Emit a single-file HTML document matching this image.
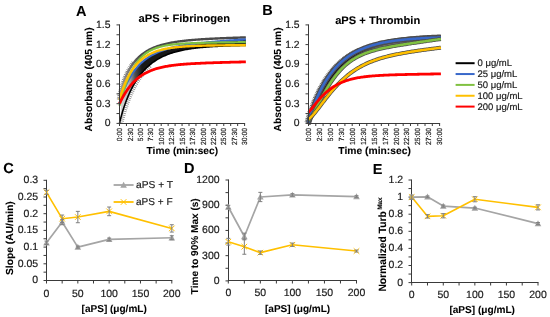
<!DOCTYPE html>
<html><head><meta charset="utf-8"><style>
html,body{margin:0;padding:0;background:#fff;}
svg{display:block;will-change:transform;font-family:"Liberation Sans", sans-serif;text-rendering:geometricPrecision;}
</style></head><body>
<svg width="550" height="317" viewBox="0 0 550 317">
<rect width="550" height="317" fill="#fff"/>
<text x="76.00" y="15.70" font-size="14.5" font-weight="bold" stroke="#000" stroke-width="0.08" >A</text>
<text x="138.60" y="21.80" font-size="11.0" font-weight="bold" stroke="#000" stroke-width="0.08" textLength="91.5" lengthAdjust="spacingAndGlyphs" >aPS + Fibrinogen</text>
<text transform="translate(92.00,79.40) rotate(-90)" font-size="10.2" font-weight="bold" text-anchor="middle" stroke="#000" stroke-width="0.08" textLength="104" lengthAdjust="spacingAndGlyphs" >Absorbance (405 nm)</text>
<text x="182.30" y="153.60" font-size="10.1" font-weight="bold" text-anchor="middle" stroke="#000" stroke-width="0.08" textLength="71.5" lengthAdjust="spacingAndGlyphs" >Time (min:sec)</text>
<defs><linearGradient id="gA" x1="119" y1="0" x2="142" y2="0" gradientUnits="userSpaceOnUse"><stop offset="0" stop-color="#dcdcdc"/><stop offset="0.4" stop-color="#bdbdbd"/><stop offset="0.7" stop-color="#505050"/><stop offset="1" stop-color="#181818"/></linearGradient><linearGradient id="gTop" x1="119" y1="0" x2="140" y2="0" gradientUnits="userSpaceOnUse"><stop offset="0" stop-color="#9a9a9a"/><stop offset="0.5" stop-color="#777"/><stop offset="1" stop-color="#4a4a4a"/></linearGradient><linearGradient id="gB" x1="308" y1="0" x2="345" y2="0" gradientUnits="userSpaceOnUse"><stop offset="0" stop-color="#777"/><stop offset="1" stop-color="#666"/></linearGradient></defs>
<path d="M121.70,123.40 L121.94,122.21 L122.19,121.15 L122.43,120.13 L122.67,119.16 L122.92,118.21 L123.16,117.28 L123.40,116.38 L123.65,115.50 L123.89,114.63 L124.13,113.79 L124.38,112.96 L124.62,112.14 L124.86,111.34 L125.11,110.55 L125.35,109.77 L125.59,109.01 L125.84,108.26 L126.08,107.52 L126.32,106.79 L126.56,106.08 L126.81,105.37 L127.05,104.68 L127.29,103.99 L127.54,103.32 L127.78,102.65 L128.02,102.00 L128.27,101.35 L128.51,100.71 L128.75,100.08 L129.00,99.46 L129.24,98.85 L129.48,98.24 L129.73,97.65 L129.97,97.06 L130.21,96.48 L130.46,95.90 L130.70,95.34 L130.94,94.78 L131.19,94.23 L131.43,93.68 L131.67,93.15 L131.92,92.62 L132.16,92.09 L132.40,91.58 L132.65,91.07 L132.89,90.56 L133.13,90.06 L133.38,89.57 L133.62,89.09 L133.86,88.61 L134.11,88.13 L134.35,87.66 L134.59,87.20 L134.84,86.74 L135.08,86.29 L135.32,85.85 L135.57,85.41 L135.81,84.97 L136.05,84.54 L136.29,84.11 L136.54,83.69 L136.78,83.28 L137.02,82.87 L137.27,82.46 L137.51,82.06 L137.75,81.67 L138.00,81.28 L138.24,80.89 L138.48,80.51 L138.73,80.13 L138.97,79.76 L139.21,79.39 L139.46,79.02 L139.70,78.66 L139.94,78.31 L140.19,77.95 L140.43,77.61 L140.67,77.26 L140.92,76.92 L141.16,76.58 L141.40,76.25 L141.65,75.92 L141.89,75.60 L142.13,75.28 L142.38,74.96 L142.62,74.64 L142.86,74.33 L143.11,74.03 L143.35,73.72 L143.59,73.42 L143.84,73.13 L144.08,72.83 L144.32,72.54 L144.57,72.25 L144.81,71.97 L145.05,71.69 L145.30,71.41 L145.54,71.14 L145.78,70.87 L146.02,70.60 L146.27,70.33 L146.51,70.07 L146.75,69.81 L147.00,69.55 L147.24,69.30 L147.48,69.05 L147.73,68.80 L147.97,68.55 L148.21,68.31 L148.46,68.07 L148.70,67.83 L148.94,67.60 L149.19,67.36 L149.43,67.13 L149.67,66.91 L149.92,66.68 L150.16,66.46 L150.40,66.24 L150.65,66.02 L150.89,65.81" fill="none" stroke="#8c8c8c" stroke-width="3.5" stroke-linejoin="round" stroke-dasharray="0.8 1.2"/>
<path d="M118.30,99.48 L118.42,98.43 L118.54,97.62 L118.66,96.89 L118.79,96.20 L118.91,95.55 L119.03,94.93 L119.15,94.33 L119.27,93.76 L119.39,93.20 L119.52,92.65 L119.64,92.12 L119.76,91.60 L119.88,91.10 L120.00,90.61 L120.12,90.12 L120.25,89.65 L120.37,89.18 L120.49,88.73 L120.61,88.28 L120.73,87.84 L120.85,87.41 L120.98,86.98 L121.10,86.57 L121.22,86.15 L121.34,85.75 L121.46,85.35 L121.58,84.96 L121.71,84.57 L121.83,84.19 L121.95,83.81 L122.07,83.44 L122.19,83.07 L122.31,82.71 L122.44,82.35 L122.56,82.00 L122.68,81.65 L122.80,81.31 L122.92,80.97 L123.04,80.64 L123.16,80.31 L123.29,79.98 L123.41,79.66 L123.53,79.34 L123.65,79.02 L123.77,78.71 L123.89,78.40 L124.02,78.10 L124.14,77.80 L124.26,77.50 L124.38,77.21 L124.50,76.92 L124.62,76.63 L124.75,76.34 L124.87,76.06 L124.99,75.78 L125.11,75.51 L125.23,75.23 L125.35,74.96 L125.48,74.69 L125.60,74.43 L125.72,74.17 L125.84,73.91 L125.96,73.65 L126.08,73.40 L126.21,73.15 L126.33,72.90 L126.45,72.65 L126.57,72.41 L126.69,72.16 L126.81,71.92 L126.94,71.69 L127.06,71.45 L127.18,71.22 L127.30,70.99 L127.42,70.76 L127.54,70.53 L127.67,70.31 L127.79,70.09 L127.91,69.87 L128.03,69.65 L128.15,69.43 L128.27,69.22 L128.39,69.01 L128.52,68.80 L128.64,68.59 L128.76,68.38 L128.88,68.18 L129.00,67.97 L129.12,67.77 L129.25,67.57 L129.37,67.38 L129.49,67.18 L129.61,66.99 L129.73,66.79 L129.85,66.60 L129.98,66.41 L130.10,66.23 L130.22,66.04 L130.34,65.86 L130.46,65.67 L130.58,65.49 L130.71,65.31 L130.83,65.13 L130.95,64.96 L131.07,64.78 L131.19,64.61 L131.31,64.44 L131.44,64.27 L131.56,64.10 L131.68,63.93 L131.80,63.76 L131.92,63.60 L132.04,63.43 L132.17,63.27 L132.29,63.11 L132.41,62.95 L132.53,62.79 L132.65,62.63 L132.77,62.48 L132.90,62.32" fill="none" stroke="#7a7a7a" stroke-width="3.0" stroke-linejoin="round" stroke-dasharray="0.8 1.0"/>
<path d="M120.75,98.84 L121.79,95.58 L122.84,92.61 L123.88,89.88 L124.92,87.35 L125.96,84.99 L127.01,82.79 L128.05,80.73 L129.09,78.79 L130.13,76.97 L131.18,75.25 L132.22,73.64 L133.26,72.12 L134.30,70.68 L135.35,69.32 L136.39,68.04 L137.43,66.82 L138.47,65.67 L139.52,64.58 L140.56,63.55 L141.60,62.57 L142.64,61.64 L143.69,60.76 L144.73,59.92 L145.77,59.12 L146.81,58.37 L147.86,57.65 L148.90,56.96 L149.94,56.31 L150.98,55.69 L152.03,55.10 L153.07,54.53 L154.11,53.99 L155.15,53.48 L156.20,52.99 L157.24,52.52 L158.28,52.07 L159.32,51.64 L160.37,51.23 L161.41,50.84 L162.45,50.47 L163.49,50.11 L164.54,49.76 L165.58,49.43 L166.62,49.11 L167.66,48.81 L168.71,48.52 L169.75,48.23 L170.79,47.96 L171.83,47.70 L172.88,47.45 L173.92,47.21 L174.96,46.98 L176.00,46.75 L177.05,46.54 L178.09,46.33 L179.13,46.13 L180.17,45.93 L181.22,45.74 L182.26,45.56 L183.30,45.38 L184.34,45.21 L185.39,45.04 L186.43,44.88 L187.47,44.73 L188.51,44.57 L189.56,44.42 L190.60,44.28 L191.64,44.14 L192.68,44.00 L193.73,43.87 L194.77,43.74 L195.81,43.61 L196.85,43.49 L197.90,43.37 L198.94,43.25 L199.98,43.13 L201.02,43.02 L202.07,42.91 L203.11,42.80 L204.15,42.69 L205.19,42.59 L206.24,42.48 L207.28,42.38 L208.32,42.28 L209.36,42.18 L210.41,42.09 L211.45,41.99 L212.49,41.90 L213.53,41.80 L214.58,41.71 L215.62,41.62 L216.66,41.53 L217.70,41.45 L218.75,41.36 L219.79,41.27 L220.83,41.19 L221.87,41.11 L222.92,41.02 L223.96,40.94 L225.00,40.86 L226.04,40.78 L227.09,40.70 L228.13,40.62 L229.17,40.54 L230.21,40.46 L231.26,40.38 L232.30,40.31 L233.34,40.23 L234.38,40.16 L235.43,40.08 L236.47,40.00 L237.51,39.93 L238.55,39.86 L239.60,39.78 L240.64,39.71 L241.68,39.64 L242.72,39.56 L243.77,39.49 L244.81,39.42 L245.85,39.35 L245.85,45.47 L244.81,45.49 L243.77,45.51 L242.72,45.52 L241.68,45.54 L240.64,45.57 L239.60,45.59 L238.55,45.61 L237.51,45.63 L236.47,45.66 L235.43,45.68 L234.38,45.71 L233.34,45.74 L232.30,45.76 L231.26,45.79 L230.21,45.83 L229.17,45.86 L228.13,45.89 L227.09,45.93 L226.04,45.96 L225.00,46.00 L223.96,46.04 L222.92,46.08 L221.87,46.13 L220.83,46.17 L219.79,46.22 L218.75,46.27 L217.70,46.32 L216.66,46.37 L215.62,46.43 L214.58,46.48 L213.53,46.54 L212.49,46.61 L211.45,46.67 L210.41,46.74 L209.36,46.81 L208.32,46.89 L207.28,46.96 L206.24,47.04 L205.19,47.13 L204.15,47.22 L203.11,47.31 L202.07,47.40 L201.02,47.50 L199.98,47.61 L198.94,47.71 L197.90,47.83 L196.85,47.94 L195.81,48.07 L194.77,48.20 L193.73,48.33 L192.68,48.47 L191.64,48.61 L190.60,48.77 L189.56,48.93 L188.51,49.09 L187.47,49.26 L186.43,49.44 L185.39,49.63 L184.34,49.83 L183.30,50.03 L182.26,50.25 L181.22,50.47 L180.17,50.70 L179.13,50.95 L178.09,51.20 L177.05,51.47 L176.00,51.74 L174.96,52.03 L173.92,52.34 L172.88,52.65 L171.83,52.98 L170.79,53.33 L169.75,53.69 L168.71,54.07 L167.66,54.46 L166.62,54.87 L165.58,55.30 L164.54,55.75 L163.49,56.22 L162.45,56.72 L161.41,57.23 L160.37,57.77 L159.32,58.33 L158.28,58.92 L157.24,59.54 L156.20,60.18 L155.15,60.86 L154.11,61.56 L153.07,62.30 L152.03,63.07 L150.98,63.89 L149.94,64.73 L148.90,65.62 L147.86,66.55 L146.81,67.53 L145.77,68.55 L144.73,69.63 L143.69,70.75 L142.64,71.93 L141.60,73.17 L140.56,74.47 L139.52,75.83 L138.47,77.26 L137.43,78.76 L136.39,80.35 L135.35,82.01 L134.30,83.75 L133.26,85.59 L132.22,87.53 L131.18,89.57 L130.13,91.72 L129.09,93.99 L128.05,96.39 L127.01,98.93 L125.96,101.62 L124.92,104.48 L123.88,107.52 L122.84,110.77 L121.79,114.27 L120.75,118.07 Z" fill="url(#gA)" stroke="none" />
<path d="M119.50,123.40 L120.55,118.84 L121.61,114.93 L122.66,111.35 L123.71,108.03 L124.76,104.92 L125.82,102.01 L126.87,99.27 L127.92,96.69 L128.98,94.25 L130.03,91.95 L131.08,89.76 L132.14,87.69 L133.19,85.73 L134.24,83.86 L135.29,82.09 L136.35,80.41 L137.40,78.81 L138.45,77.29 L139.51,75.84 L140.56,74.47 L141.61,73.15 L142.66,71.91 L143.72,70.72 L144.77,69.58 L145.82,68.50 L146.88,67.47 L147.93,66.49 L148.98,65.55 L150.03,64.66 L151.09,63.80 L152.14,62.99 L153.19,62.21 L154.25,61.47 L155.30,60.76 L156.35,60.08 L157.41,59.44 L158.46,58.82 L159.51,58.23 L160.56,57.66 L161.62,57.13 L162.67,56.61 L163.72,56.12 L164.78,55.65 L165.83,55.20 L166.88,54.77 L167.93,54.36 L168.99,53.96 L170.04,53.59 L171.09,53.23 L172.15,52.88 L173.20,52.55 L174.25,52.24 L175.31,51.94 L176.36,51.65 L177.41,51.37 L178.46,51.11 L179.52,50.86 L180.57,50.61 L181.62,50.38 L182.68,50.16 L183.73,49.95 L184.78,49.74 L185.83,49.55 L186.89,49.36 L187.94,49.18 L188.99,49.01 L190.05,48.85 L191.10,48.69 L192.15,48.54 L193.20,48.40 L194.26,48.26 L195.31,48.13 L196.36,48.00 L197.42,47.88 L198.47,47.76 L199.52,47.65 L200.58,47.55 L201.63,47.44 L202.68,47.35 L203.73,47.25 L204.79,47.16 L205.84,47.08 L206.89,46.99 L207.95,46.91 L209.00,46.84 L210.05,46.76 L211.10,46.70 L212.16,46.63 L213.21,46.56 L214.26,46.50 L215.32,46.44 L216.37,46.39 L217.42,46.33 L218.47,46.28 L219.53,46.23 L220.58,46.18 L221.63,46.14 L222.69,46.09 L223.74,46.05 L224.79,46.01 L225.85,45.97 L226.90,45.93 L227.95,45.90 L229.00,45.86 L230.06,45.83 L231.11,45.80 L232.16,45.77 L233.22,45.74 L234.27,45.71 L235.32,45.68 L236.37,45.66 L237.43,45.63 L238.48,45.61 L239.53,45.59 L240.59,45.57 L241.64,45.55 L242.69,45.53 L243.75,45.51 L244.80,45.49 L245.85,45.47" fill="none" stroke="#000" stroke-width="1.6" stroke-linejoin="round" />
<path d="M119.50,99.48 L120.55,93.39 L121.61,89.04 L122.66,85.36 L123.71,82.13 L124.76,79.25 L125.82,76.64 L126.87,74.27 L127.92,72.10 L128.98,70.11 L130.03,68.26 L131.08,66.56 L132.14,64.98 L133.19,63.51 L134.24,62.14 L135.29,60.86 L136.35,59.66 L137.40,58.54 L138.45,57.49 L139.51,56.51 L140.56,55.59 L141.61,54.72 L142.66,53.90 L143.72,53.13 L144.77,52.41 L145.82,51.72 L146.88,51.07 L147.93,50.46 L148.98,49.89 L150.03,49.34 L151.09,48.82 L152.14,48.33 L153.19,47.87 L154.25,47.43 L155.30,47.01 L156.35,46.62 L157.41,46.24 L158.46,45.88 L159.51,45.54 L160.56,45.22 L161.62,44.91 L162.67,44.62 L163.72,44.34 L164.78,44.07 L165.83,43.82 L166.88,43.58 L167.93,43.34 L168.99,43.12 L170.04,42.91 L171.09,42.71 L172.15,42.52 L173.20,42.33 L174.25,42.15 L175.31,41.98 L176.36,41.82 L177.41,41.66 L178.46,41.52 L179.52,41.37 L180.57,41.23 L181.62,41.10 L182.68,40.97 L183.73,40.85 L184.78,40.73 L185.83,40.62 L186.89,40.51 L187.94,40.40 L188.99,40.30 L190.05,40.20 L191.10,40.11 L192.15,40.01 L193.20,39.92 L194.26,39.84 L195.31,39.76 L196.36,39.67 L197.42,39.60 L198.47,39.52 L199.52,39.45 L200.58,39.38 L201.63,39.31 L202.68,39.24 L203.73,39.17 L204.79,39.11 L205.84,39.05 L206.89,38.99 L207.95,38.93 L209.00,38.87 L210.05,38.81 L211.10,38.76 L212.16,38.71 L213.21,38.65 L214.26,38.60 L215.32,38.55 L216.37,38.50 L217.42,38.45 L218.47,38.41 L219.53,38.36 L220.58,38.31 L221.63,38.27 L222.69,38.23 L223.74,38.18 L224.79,38.14 L225.85,38.10 L226.90,38.06 L227.95,38.02 L229.00,37.98 L230.06,37.94 L231.11,37.90 L232.16,37.86 L233.22,37.82 L234.27,37.79 L235.32,37.75 L236.37,37.71 L237.43,37.68 L238.48,37.64 L239.53,37.61 L240.59,37.57 L241.64,37.54 L242.69,37.50 L243.75,37.47 L244.80,37.44 L245.85,37.40" fill="none" stroke="url(#gTop)" stroke-width="2.4" stroke-linejoin="round" />
<path d="M119.50,103.48 L120.55,99.50 L121.61,96.14 L122.66,93.10 L123.71,90.31 L124.76,87.72 L125.82,85.31 L126.87,83.07 L127.92,80.97 L128.98,78.99 L130.03,77.14 L131.08,75.40 L132.14,73.76 L133.19,72.22 L134.24,70.76 L135.29,69.39 L136.35,68.09 L137.40,66.86 L138.45,65.69 L139.51,64.59 L140.56,63.55 L141.61,62.56 L142.66,61.62 L143.72,60.73 L144.77,59.89 L145.82,59.09 L146.88,58.32 L147.93,57.60 L148.98,56.91 L150.03,56.25 L151.09,55.63 L152.14,55.03 L153.19,54.47 L154.25,53.92 L155.30,53.41 L156.35,52.92 L157.41,52.45 L158.46,52.00 L159.51,51.57 L160.56,51.16 L161.62,50.76 L162.67,50.39 L163.72,50.03 L164.78,49.68 L165.83,49.35 L166.88,49.04 L167.93,48.73 L168.99,48.44 L170.04,48.16 L171.09,47.89 L172.15,47.63 L173.20,47.38 L174.25,47.14 L175.31,46.90 L176.36,46.68 L177.41,46.46 L178.46,46.25 L179.52,46.05 L180.57,45.86 L181.62,45.67 L182.68,45.49 L183.73,45.31 L184.78,45.14 L185.83,44.97 L186.89,44.81 L187.94,44.66 L188.99,44.50 L190.05,44.36 L191.10,44.21 L192.15,44.07 L193.20,43.94 L194.26,43.80 L195.31,43.67 L196.36,43.55 L197.42,43.42 L198.47,43.30 L199.52,43.18 L200.58,43.07 L201.63,42.95 L202.68,42.84 L203.73,42.73 L204.79,42.63 L205.84,42.52 L206.89,42.42 L207.95,42.32 L209.00,42.22 L210.05,42.12 L211.10,42.02 L212.16,41.93 L213.21,41.83 L214.26,41.74 L215.32,41.65 L216.37,41.56 L217.42,41.47 L218.47,41.38 L219.53,41.30 L220.58,41.21 L221.63,41.13 L222.69,41.04 L223.74,40.96 L224.79,40.88 L225.85,40.79 L226.90,40.71 L227.95,40.63 L229.00,40.55 L230.06,40.47 L231.11,40.40 L232.16,40.32 L233.22,40.24 L234.27,40.16 L235.32,40.09 L236.37,40.01 L237.43,39.94 L238.48,39.86 L239.53,39.79 L240.59,39.71 L241.64,39.64 L242.69,39.57 L243.75,39.49 L244.80,39.42 L245.85,39.35" fill="none" stroke="#3868CA" stroke-width="2.2" stroke-linejoin="round" />
<path d="M119.50,105.78 L120.55,101.68 L121.61,97.75 L122.66,94.04 L123.71,90.56 L124.76,87.31 L125.82,84.27 L126.87,81.43 L127.92,78.77 L128.98,76.30 L130.03,73.99 L131.08,71.84 L132.14,69.84 L133.19,67.97 L134.24,66.23 L135.29,64.61 L136.35,63.11 L137.40,61.70 L138.45,60.39 L139.51,59.18 L140.56,58.05 L141.61,56.99 L142.66,56.01 L143.72,55.10 L144.77,54.25 L145.82,53.46 L146.88,52.72 L147.93,52.04 L148.98,51.40 L150.03,50.81 L151.09,50.25 L152.14,49.74 L153.19,49.26 L154.25,48.82 L155.30,48.40 L156.35,48.02 L157.41,47.66 L158.46,47.33 L159.51,47.01 L160.56,46.72 L161.62,46.45 L162.67,46.20 L163.72,45.97 L164.78,45.75 L165.83,45.54 L166.88,45.35 L167.93,45.18 L168.99,45.01 L170.04,44.86 L171.09,44.71 L172.15,44.58 L173.20,44.45 L174.25,44.33 L175.31,44.22 L176.36,44.12 L177.41,44.02 L178.46,43.93 L179.52,43.84 L180.57,43.76 L181.62,43.69 L182.68,43.62 L183.73,43.55 L184.78,43.49 L185.83,43.43 L186.89,43.38 L187.94,43.32 L188.99,43.27 L190.05,43.23 L191.10,43.18 L192.15,43.14 L193.20,43.10 L194.26,43.06 L195.31,43.03 L196.36,42.99 L197.42,42.96 L198.47,42.93 L199.52,42.90 L200.58,42.87 L201.63,42.84 L202.68,42.81 L203.73,42.79 L204.79,42.76 L205.84,42.74 L206.89,42.72 L207.95,42.70 L209.00,42.67 L210.05,42.65 L211.10,42.63 L212.16,42.61 L213.21,42.59 L214.26,42.58 L215.32,42.56 L216.37,42.54 L217.42,42.52 L218.47,42.51 L219.53,42.49 L220.58,42.47 L221.63,42.46 L222.69,42.44 L223.74,42.42 L224.79,42.41 L225.85,42.39 L226.90,42.38 L227.95,42.36 L229.00,42.35 L230.06,42.33 L231.11,42.32 L232.16,42.31 L233.22,42.29 L234.27,42.28 L235.32,42.26 L236.37,42.25 L237.43,42.24 L238.48,42.22 L239.53,42.21 L240.59,42.20 L241.64,42.18 L242.69,42.17 L243.75,42.16 L244.80,42.14 L245.85,42.13" fill="none" stroke="#80C141" stroke-width="2.2" stroke-linejoin="round" />
<path d="M119.50,99.81 L120.55,95.97 L121.61,92.61 L122.66,89.54 L123.71,86.70 L124.76,84.08 L125.82,81.64 L126.87,79.38 L127.92,77.26 L128.98,75.29 L130.03,73.45 L131.08,71.72 L132.14,70.11 L133.19,68.60 L134.24,67.19 L135.29,65.87 L136.35,64.63 L137.40,63.46 L138.45,62.37 L139.51,61.35 L140.56,60.39 L141.61,59.49 L142.66,58.64 L143.72,57.85 L144.77,57.10 L145.82,56.40 L146.88,55.74 L147.93,55.12 L148.98,54.54 L150.03,54.00 L151.09,53.48 L152.14,53.00 L153.19,52.54 L154.25,52.12 L155.30,51.71 L156.35,51.34 L157.41,50.98 L158.46,50.64 L159.51,50.33 L160.56,50.03 L161.62,49.75 L162.67,49.49 L163.72,49.24 L164.78,49.01 L165.83,48.79 L166.88,48.58 L167.93,48.39 L168.99,48.21 L170.04,48.03 L171.09,47.87 L172.15,47.72 L173.20,47.57 L174.25,47.44 L175.31,47.31 L176.36,47.19 L177.41,47.07 L178.46,46.97 L179.52,46.87 L180.57,46.77 L181.62,46.68 L182.68,46.60 L183.73,46.52 L184.78,46.44 L185.83,46.37 L186.89,46.30 L187.94,46.24 L188.99,46.18 L190.05,46.12 L191.10,46.07 L192.15,46.02 L193.20,45.97 L194.26,45.93 L195.31,45.89 L196.36,45.85 L197.42,45.81 L198.47,45.78 L199.52,45.74 L200.58,45.71 L201.63,45.68 L202.68,45.66 L203.73,45.63 L204.79,45.60 L205.84,45.58 L206.89,45.56 L207.95,45.54 L209.00,45.52 L210.05,45.50 L211.10,45.48 L212.16,45.47 L213.21,45.45 L214.26,45.44 L215.32,45.42 L216.37,45.41 L217.42,45.40 L218.47,45.38 L219.53,45.37 L220.58,45.36 L221.63,45.35 L222.69,45.34 L223.74,45.34 L224.79,45.33 L225.85,45.32 L226.90,45.31 L227.95,45.30 L229.00,45.30 L230.06,45.29 L231.11,45.29 L232.16,45.28 L233.22,45.28 L234.27,45.27 L235.32,45.27 L236.37,45.26 L237.43,45.26 L238.48,45.25 L239.53,45.25 L240.59,45.25 L241.64,45.24 L242.69,45.24 L243.75,45.24 L244.80,45.23 L245.85,45.23" fill="none" stroke="#FFC000" stroke-width="2.4" stroke-linejoin="round" />
<path d="M119.50,103.66 L120.55,101.48 L121.61,99.38 L122.66,97.39 L123.71,95.51 L124.76,93.72 L125.82,92.03 L126.87,90.43 L127.92,88.92 L128.98,87.49 L130.03,86.14 L131.08,84.87 L132.14,83.67 L133.19,82.53 L134.24,81.46 L135.29,80.44 L136.35,79.49 L137.40,78.58 L138.45,77.73 L139.51,76.92 L140.56,76.16 L141.61,75.44 L142.66,74.76 L143.72,74.12 L144.77,73.52 L145.82,72.95 L146.88,72.41 L147.93,71.90 L148.98,71.42 L150.03,70.96 L151.09,70.53 L152.14,70.12 L153.19,69.74 L154.25,69.37 L155.30,69.03 L156.35,68.70 L157.41,68.40 L158.46,68.11 L159.51,67.83 L160.56,67.57 L161.62,67.32 L162.67,67.09 L163.72,66.87 L164.78,66.66 L165.83,66.46 L166.88,66.27 L167.93,66.09 L168.99,65.92 L170.04,65.75 L171.09,65.60 L172.15,65.45 L173.20,65.32 L174.25,65.18 L175.31,65.06 L176.36,64.94 L177.41,64.82 L178.46,64.71 L179.52,64.61 L180.57,64.51 L181.62,64.42 L182.68,64.32 L183.73,64.24 L184.78,64.15 L185.83,64.08 L186.89,64.00 L187.94,63.93 L188.99,63.86 L190.05,63.79 L191.10,63.72 L192.15,63.66 L193.20,63.60 L194.26,63.54 L195.31,63.48 L196.36,63.43 L197.42,63.38 L198.47,63.33 L199.52,63.28 L200.58,63.23 L201.63,63.18 L202.68,63.14 L203.73,63.10 L204.79,63.05 L205.84,63.01 L206.89,62.97 L207.95,62.93 L209.00,62.89 L210.05,62.85 L211.10,62.82 L212.16,62.78 L213.21,62.75 L214.26,62.71 L215.32,62.68 L216.37,62.64 L217.42,62.61 L218.47,62.58 L219.53,62.55 L220.58,62.52 L221.63,62.48 L222.69,62.45 L223.74,62.42 L224.79,62.39 L225.85,62.36 L226.90,62.34 L227.95,62.31 L229.00,62.28 L230.06,62.25 L231.11,62.22 L232.16,62.19 L233.22,62.17 L234.27,62.14 L235.32,62.11 L236.37,62.08 L237.43,62.06 L238.48,62.03 L239.53,62.01 L240.59,61.98 L241.64,61.95 L242.69,61.93 L243.75,61.90 L244.80,61.87 L245.85,61.85" fill="none" stroke="#FF0000" stroke-width="2.8" stroke-linejoin="round" />
<line x1="119.50" y1="24.40" x2="119.50" y2="123.90" stroke="#3a3a3a" stroke-width="1" />
<line x1="116.50" y1="123.40" x2="119.50" y2="123.40" stroke="#3a3a3a" stroke-width="1" />
<line x1="116.50" y1="113.55" x2="119.50" y2="113.55" stroke="#3a3a3a" stroke-width="1" />
<line x1="116.50" y1="103.70" x2="119.50" y2="103.70" stroke="#3a3a3a" stroke-width="1" />
<line x1="116.50" y1="93.85" x2="119.50" y2="93.85" stroke="#3a3a3a" stroke-width="1" />
<line x1="116.50" y1="84.00" x2="119.50" y2="84.00" stroke="#3a3a3a" stroke-width="1" />
<line x1="116.50" y1="74.15" x2="119.50" y2="74.15" stroke="#3a3a3a" stroke-width="1" />
<line x1="116.50" y1="64.30" x2="119.50" y2="64.30" stroke="#3a3a3a" stroke-width="1" />
<line x1="116.50" y1="54.45" x2="119.50" y2="54.45" stroke="#3a3a3a" stroke-width="1" />
<line x1="116.50" y1="44.60" x2="119.50" y2="44.60" stroke="#3a3a3a" stroke-width="1" />
<line x1="116.50" y1="34.75" x2="119.50" y2="34.75" stroke="#3a3a3a" stroke-width="1" />
<line x1="116.50" y1="24.90" x2="119.50" y2="24.90" stroke="#3a3a3a" stroke-width="1" />
<text x="110.50" y="126.40" font-size="10.4" text-anchor="end" fill="#1a1a1a" stroke="#1a1a1a" stroke-width="0.18" >0</text>
<text x="110.50" y="106.70" font-size="10.4" text-anchor="end" fill="#1a1a1a" stroke="#1a1a1a" stroke-width="0.18" >0.3</text>
<text x="110.50" y="87.00" font-size="10.4" text-anchor="end" fill="#1a1a1a" stroke="#1a1a1a" stroke-width="0.18" >0.6</text>
<text x="110.50" y="67.30" font-size="10.4" text-anchor="end" fill="#1a1a1a" stroke="#1a1a1a" stroke-width="0.18" >0.9</text>
<text x="110.50" y="47.60" font-size="10.4" text-anchor="end" fill="#1a1a1a" stroke="#1a1a1a" stroke-width="0.18" >1.2</text>
<text x="110.50" y="27.90" font-size="10.4" text-anchor="end" fill="#1a1a1a" stroke="#1a1a1a" stroke-width="0.18" >1.5</text>
<line x1="119.00" y1="123.50" x2="245.10" y2="123.50" stroke="#3a3a3a" stroke-width="1" />
<line x1="119.50" y1="123.50" x2="119.50" y2="126.00" stroke="#3a3a3a" stroke-width="1" />
<line x1="126.45" y1="123.50" x2="126.45" y2="126.00" stroke="#3a3a3a" stroke-width="1" />
<line x1="133.40" y1="123.50" x2="133.40" y2="126.00" stroke="#3a3a3a" stroke-width="1" />
<line x1="140.35" y1="123.50" x2="140.35" y2="126.00" stroke="#3a3a3a" stroke-width="1" />
<line x1="147.30" y1="123.50" x2="147.30" y2="126.00" stroke="#3a3a3a" stroke-width="1" />
<line x1="154.25" y1="123.50" x2="154.25" y2="126.00" stroke="#3a3a3a" stroke-width="1" />
<line x1="161.20" y1="123.50" x2="161.20" y2="126.00" stroke="#3a3a3a" stroke-width="1" />
<line x1="168.15" y1="123.50" x2="168.15" y2="126.00" stroke="#3a3a3a" stroke-width="1" />
<line x1="175.10" y1="123.50" x2="175.10" y2="126.00" stroke="#3a3a3a" stroke-width="1" />
<line x1="182.05" y1="123.50" x2="182.05" y2="126.00" stroke="#3a3a3a" stroke-width="1" />
<line x1="189.00" y1="123.50" x2="189.00" y2="126.00" stroke="#3a3a3a" stroke-width="1" />
<line x1="195.95" y1="123.50" x2="195.95" y2="126.00" stroke="#3a3a3a" stroke-width="1" />
<line x1="202.90" y1="123.50" x2="202.90" y2="126.00" stroke="#3a3a3a" stroke-width="1" />
<line x1="209.85" y1="123.50" x2="209.85" y2="126.00" stroke="#3a3a3a" stroke-width="1" />
<line x1="216.80" y1="123.50" x2="216.80" y2="126.00" stroke="#3a3a3a" stroke-width="1" />
<line x1="223.75" y1="123.50" x2="223.75" y2="126.00" stroke="#3a3a3a" stroke-width="1" />
<line x1="230.70" y1="123.50" x2="230.70" y2="126.00" stroke="#3a3a3a" stroke-width="1" />
<line x1="237.65" y1="123.50" x2="237.65" y2="126.00" stroke="#3a3a3a" stroke-width="1" />
<line x1="244.60" y1="123.50" x2="244.60" y2="126.00" stroke="#3a3a3a" stroke-width="1" />
<text transform="translate(122.10,128.00) rotate(-90)" font-size="7.4" text-anchor="end" fill="#1a1a1a" stroke="#1a1a1a" stroke-width="0.18" textLength="13.2" lengthAdjust="spacingAndGlyphs" >0:00</text>
<text transform="translate(132.53,128.00) rotate(-90)" font-size="7.4" text-anchor="end" fill="#1a1a1a" stroke="#1a1a1a" stroke-width="0.18" textLength="13.2" lengthAdjust="spacingAndGlyphs" >2:30</text>
<text transform="translate(142.95,128.00) rotate(-90)" font-size="7.4" text-anchor="end" fill="#1a1a1a" stroke="#1a1a1a" stroke-width="0.18" textLength="13.2" lengthAdjust="spacingAndGlyphs" >5:00</text>
<text transform="translate(153.38,128.00) rotate(-90)" font-size="7.4" text-anchor="end" fill="#1a1a1a" stroke="#1a1a1a" stroke-width="0.18" textLength="13.2" lengthAdjust="spacingAndGlyphs" >7:30</text>
<text transform="translate(163.80,128.00) rotate(-90)" font-size="7.4" text-anchor="end" fill="#1a1a1a" stroke="#1a1a1a" stroke-width="0.18" textLength="17.0" lengthAdjust="spacingAndGlyphs" >10:00</text>
<text transform="translate(174.22,128.00) rotate(-90)" font-size="7.4" text-anchor="end" fill="#1a1a1a" stroke="#1a1a1a" stroke-width="0.18" textLength="17.0" lengthAdjust="spacingAndGlyphs" >12:30</text>
<text transform="translate(184.65,128.00) rotate(-90)" font-size="7.4" text-anchor="end" fill="#1a1a1a" stroke="#1a1a1a" stroke-width="0.18" textLength="17.0" lengthAdjust="spacingAndGlyphs" >15:00</text>
<text transform="translate(195.07,128.00) rotate(-90)" font-size="7.4" text-anchor="end" fill="#1a1a1a" stroke="#1a1a1a" stroke-width="0.18" textLength="17.0" lengthAdjust="spacingAndGlyphs" >17:30</text>
<text transform="translate(205.50,128.00) rotate(-90)" font-size="7.4" text-anchor="end" fill="#1a1a1a" stroke="#1a1a1a" stroke-width="0.18" textLength="17.0" lengthAdjust="spacingAndGlyphs" >20:00</text>
<text transform="translate(215.92,128.00) rotate(-90)" font-size="7.4" text-anchor="end" fill="#1a1a1a" stroke="#1a1a1a" stroke-width="0.18" textLength="17.0" lengthAdjust="spacingAndGlyphs" >22:30</text>
<text transform="translate(226.35,128.00) rotate(-90)" font-size="7.4" text-anchor="end" fill="#1a1a1a" stroke="#1a1a1a" stroke-width="0.18" textLength="17.0" lengthAdjust="spacingAndGlyphs" >25:00</text>
<text transform="translate(236.78,128.00) rotate(-90)" font-size="7.4" text-anchor="end" fill="#1a1a1a" stroke="#1a1a1a" stroke-width="0.18" textLength="17.0" lengthAdjust="spacingAndGlyphs" >27:30</text>
<text transform="translate(247.20,128.00) rotate(-90)" font-size="7.4" text-anchor="end" fill="#1a1a1a" stroke="#1a1a1a" stroke-width="0.18" textLength="17.0" lengthAdjust="spacingAndGlyphs" >30:00</text>
<text x="262.30" y="15.40" font-size="14.5" font-weight="bold" stroke="#000" stroke-width="0.08" >B</text>
<text x="335.20" y="23.60" font-size="11.0" font-weight="bold" stroke="#000" stroke-width="0.08" textLength="85.0" lengthAdjust="spacingAndGlyphs" >aPS + Thrombin</text>
<text transform="translate(280.60,79.40) rotate(-90)" font-size="10.2" font-weight="bold" text-anchor="middle" stroke="#000" stroke-width="0.08" textLength="104" lengthAdjust="spacingAndGlyphs" >Absorbance (405 nm)</text>
<text x="374.60" y="153.60" font-size="10.2" font-weight="bold" text-anchor="middle" stroke="#000" stroke-width="0.08" textLength="72.5" lengthAdjust="spacingAndGlyphs" >Time (min:sec)</text>
<path d="M306.20,122.53 L306.64,120.80 L307.07,119.23 L307.51,117.73 L307.95,116.28 L308.38,114.87 L308.82,113.51 L309.26,112.18 L309.70,110.88 L310.13,109.61 L310.57,108.37 L311.01,107.16 L311.44,105.98 L311.88,104.81 L312.32,103.68 L312.75,102.56 L313.19,101.47 L313.63,100.40 L314.07,99.35 L314.50,98.32 L314.94,97.32 L315.38,96.33 L315.81,95.35 L316.25,94.40 L316.69,93.46 L317.12,92.55 L317.56,91.64 L318.00,90.76 L318.44,89.89 L318.87,89.03 L319.31,88.19 L319.75,87.37 L320.18,86.56 L320.62,85.76 L321.06,84.98 L321.50,84.21 L321.93,83.46 L322.37,82.72 L322.81,81.99 L323.24,81.27 L323.68,80.57 L324.12,79.88 L324.55,79.20 L324.99,78.53 L325.43,77.87 L325.87,77.22 L326.30,76.59 L326.74,75.96 L327.18,75.35 L327.61,74.74 L328.05,74.15 L328.49,73.56 L328.92,72.99 L329.36,72.42 L329.80,71.87 L330.24,71.32 L330.67,70.78 L331.11,70.26 L331.55,69.74 L331.98,69.22 L332.42,68.72 L332.86,68.22 L333.29,67.74 L333.73,67.26 L334.17,66.79 L334.61,66.32 L335.04,65.87 L335.48,65.42 L335.92,64.98 L336.35,64.54 L336.79,64.11 L337.23,63.69 L337.66,63.28 L338.10,62.87 L338.54,62.47 L338.97,62.08 L339.41,61.69 L339.85,61.31 L340.29,60.93 L340.72,60.56 L341.16,60.20 L341.60,59.84 L342.03,59.49 L342.47,59.14 L342.91,58.80 L343.34,58.46 L343.78,58.13 L344.22,57.80 L344.66,57.48 L345.09,57.17 L345.53,56.86 L345.97,56.55 L346.40,56.25 L346.84,55.95 L347.28,55.66 L347.71,55.38 L348.15,55.09 L348.59,54.82 L349.03,54.54 L349.46,54.27 L349.90,54.01 L350.34,53.75 L350.77,53.49 L351.21,53.24 L351.65,52.99 L352.08,52.74 L352.52,52.50 L352.96,52.26 L353.40,52.03 L353.83,51.80 L354.27,51.57 L354.71,51.35 L355.14,51.13 L355.58,50.91 L356.02,50.70 L356.45,50.49 L356.89,50.28 L357.33,50.08 L357.77,49.88 L358.20,49.68 L358.64,49.48" fill="none" stroke="#6e6e6e" stroke-width="3.4" stroke-linejoin="round" stroke-dasharray="1 0.7"/>
<path d="M310.69,114.87 L311.77,111.55 L312.86,108.41 L313.94,105.45 L315.03,102.64 L316.11,99.96 L317.20,97.42 L318.28,94.99 L319.37,92.67 L320.45,90.45 L321.54,88.33 L322.62,86.31 L323.71,84.37 L324.79,82.51 L325.88,80.73 L326.96,79.03 L328.05,77.39 L329.13,75.83 L330.22,74.33 L331.30,72.89 L332.39,71.50 L333.47,70.18 L334.56,68.90 L335.64,67.68 L336.73,66.51 L337.82,65.38 L338.90,64.30 L339.99,63.26 L341.07,62.26 L342.16,61.30 L343.24,60.38 L344.33,59.49 L345.41,58.64 L346.50,57.82 L347.58,57.03 L348.67,56.28 L349.75,55.55 L350.84,54.85 L351.92,54.17 L353.01,53.53 L354.09,52.90 L355.18,52.30 L356.26,51.73 L357.35,51.17 L358.43,50.64 L359.52,50.13 L360.60,49.63 L361.69,49.16 L362.78,48.70 L363.86,48.26 L364.95,47.83 L366.03,47.43 L367.12,47.03 L368.20,46.66 L369.29,46.29 L370.37,45.94 L371.46,45.60 L372.54,45.28 L373.63,44.97 L374.71,44.66 L375.80,44.37 L376.88,44.09 L377.97,43.83 L379.05,43.57 L380.14,43.32 L381.22,43.08 L382.31,42.84 L383.39,42.62 L384.48,42.41 L385.56,42.20 L386.65,42.00 L387.74,41.81 L388.82,41.62 L389.91,41.44 L390.99,41.27 L392.08,41.11 L393.16,40.95 L394.25,40.79 L395.33,40.64 L396.42,40.50 L397.50,40.36 L398.59,40.23 L399.67,40.10 L400.76,39.98 L401.84,39.86 L402.93,39.75 L404.01,39.63 L405.10,39.53 L406.18,39.43 L407.27,39.33 L408.35,39.23 L409.44,39.14 L410.52,39.05 L411.61,38.97 L412.70,38.88 L413.78,38.80 L414.87,38.73 L415.95,38.65 L417.04,38.58 L418.12,38.51 L419.21,38.45 L420.29,38.38 L421.38,38.32 L422.46,38.26 L423.55,38.21 L424.63,38.15 L425.72,38.10 L426.80,38.05 L427.89,38.00 L428.97,37.95 L430.06,37.90 L431.14,37.86 L432.23,37.81 L433.31,37.77 L434.40,37.73 L435.48,37.70 L436.57,37.66 L437.66,37.62 L438.74,37.59 L439.83,37.55 L440.91,37.52 L440.91,39.01 L439.83,39.16 L438.74,39.31 L437.66,39.47 L436.57,39.62 L435.48,39.78 L434.40,39.93 L433.31,40.09 L432.23,40.24 L431.14,40.39 L430.06,40.55 L428.97,40.70 L427.89,40.86 L426.80,41.02 L425.72,41.17 L424.63,41.33 L423.55,41.48 L422.46,41.64 L421.38,41.80 L420.29,41.95 L419.21,42.11 L418.12,42.27 L417.04,42.43 L415.95,42.59 L414.87,42.75 L413.78,42.91 L412.70,43.07 L411.61,43.23 L410.52,43.40 L409.44,43.56 L408.35,43.73 L407.27,43.89 L406.18,44.06 L405.10,44.23 L404.01,44.40 L402.93,44.57 L401.84,44.74 L400.76,44.92 L399.67,45.09 L398.59,45.27 L397.50,45.45 L396.42,45.63 L395.33,45.82 L394.25,46.01 L393.16,46.20 L392.08,46.39 L390.99,46.59 L389.91,46.79 L388.82,47.00 L387.74,47.21 L386.65,47.42 L385.56,47.64 L384.48,47.87 L383.39,48.10 L382.31,48.33 L381.22,48.58 L380.14,48.83 L379.05,49.09 L377.97,49.35 L376.88,49.63 L375.80,49.91 L374.71,50.20 L373.63,50.50 L372.54,50.82 L371.46,51.15 L370.37,51.48 L369.29,51.84 L368.20,52.20 L367.12,52.58 L366.03,52.98 L364.95,53.40 L363.86,53.83 L362.78,54.28 L361.69,54.75 L360.60,55.25 L359.52,55.76 L358.43,56.30 L357.35,56.87 L356.26,57.46 L355.18,58.07 L354.09,58.72 L353.01,59.40 L351.92,60.11 L350.84,60.85 L349.75,61.63 L348.67,62.45 L347.58,63.30 L346.50,64.19 L345.41,65.12 L344.33,66.10 L343.24,67.12 L342.16,68.19 L341.07,69.30 L339.99,70.46 L338.90,71.67 L337.82,72.93 L336.73,74.24 L335.64,75.61 L334.56,77.03 L333.47,78.50 L332.39,80.03 L331.30,81.61 L330.22,83.24 L329.13,84.93 L328.05,86.67 L326.96,88.47 L325.88,90.31 L324.79,92.20 L323.71,94.13 L322.62,96.10 L321.54,98.11 L320.45,100.14 L319.37,102.20 L318.28,104.27 L317.20,106.35 L316.11,108.41 L315.03,110.45 L313.94,112.45 L312.86,114.39 L311.77,116.22 L310.69,117.92 Z" fill="#6f6f6f" stroke="none" />
<path d="M308.50,124.19 L309.60,120.96 L310.71,117.87 L311.81,114.89 L312.91,112.02 L314.02,109.27 L315.12,106.61 L316.22,104.05 L317.33,101.58 L318.43,99.20 L319.53,96.91 L320.64,94.70 L321.74,92.58 L322.84,90.53 L323.95,88.55 L325.05,86.65 L326.15,84.81 L327.26,83.04 L328.36,81.34 L329.47,79.69 L330.57,78.11 L331.67,76.58 L332.78,75.11 L333.88,73.69 L334.98,72.32 L336.09,71.01 L337.19,69.73 L338.29,68.51 L339.40,67.33 L340.50,66.19 L341.60,65.09 L342.71,64.03 L343.81,63.01 L344.91,62.03 L346.02,61.08 L347.12,60.17 L348.22,59.29 L349.33,58.44 L350.43,57.62 L351.53,56.83 L352.64,56.07 L353.74,55.33 L354.84,54.62 L355.95,53.94 L357.05,53.28 L358.15,52.65 L359.26,52.04 L360.36,51.45 L361.46,50.88 L362.57,50.33 L363.67,49.80 L364.77,49.29 L365.88,48.80 L366.98,48.33 L368.08,47.87 L369.19,47.43 L370.29,47.01 L371.40,46.60 L372.50,46.20 L373.60,45.82 L374.71,45.46 L375.81,45.10 L376.91,44.76 L378.02,44.43 L379.12,44.11 L380.22,43.81 L381.33,43.51 L382.43,43.23 L383.53,42.95 L384.64,42.69 L385.74,42.44 L386.84,42.19 L387.95,41.95 L389.05,41.72 L390.15,41.50 L391.26,41.29 L392.36,41.09 L393.46,40.89 L394.57,40.70 L395.67,40.52 L396.77,40.34 L397.88,40.17 L398.98,40.00 L400.08,39.84 L401.19,39.69 L402.29,39.54 L403.39,39.40 L404.50,39.26 L405.60,39.13 L406.70,39.00 L407.81,38.88 L408.91,38.76 L410.02,38.65 L411.12,38.54 L412.22,38.43 L413.33,38.33 L414.43,38.23 L415.53,38.13 L416.64,38.04 L417.74,37.95 L418.84,37.87 L419.95,37.78 L421.05,37.71 L422.15,37.63 L423.26,37.55 L424.36,37.48 L425.46,37.41 L426.57,37.35 L427.67,37.28 L428.77,37.22 L429.88,37.16 L430.98,37.11 L432.08,37.05 L433.19,37.00 L434.29,36.95 L435.39,36.90 L436.50,36.85 L437.60,36.80 L438.70,36.76 L439.81,36.71 L440.91,36.67" fill="none" stroke="#4d4d4d" stroke-width="4.4" stroke-linejoin="round" />
<path d="M308.50,124.19 L309.60,120.96 L310.71,117.87 L311.81,114.89 L312.91,112.02 L314.02,109.27 L315.12,106.61 L316.22,104.05 L317.33,101.58 L318.43,99.20 L319.53,96.91 L320.64,94.70 L321.74,92.58 L322.84,90.53 L323.95,88.55 L325.05,86.65 L326.15,84.81 L327.26,83.04 L328.36,81.34 L329.47,79.69 L330.57,78.11 L331.67,76.58 L332.78,75.11 L333.88,73.69 L334.98,72.32 L336.09,71.01 L337.19,69.73 L338.29,68.51 L339.40,67.33 L340.50,66.19 L341.60,65.09 L342.71,64.03 L343.81,63.01 L344.91,62.03 L346.02,61.08 L347.12,60.17 L348.22,59.29 L349.33,58.44 L350.43,57.62 L351.53,56.83 L352.64,56.07 L353.74,55.33 L354.84,54.62 L355.95,53.94 L357.05,53.28 L358.15,52.65 L359.26,52.04 L360.36,51.45 L361.46,50.88 L362.57,50.33 L363.67,49.80 L364.77,49.29 L365.88,48.80 L366.98,48.33 L368.08,47.87 L369.19,47.43 L370.29,47.01 L371.40,46.60 L372.50,46.20 L373.60,45.82 L374.71,45.46 L375.81,45.10 L376.91,44.76 L378.02,44.43 L379.12,44.11 L380.22,43.81 L381.33,43.51 L382.43,43.23 L383.53,42.95 L384.64,42.69 L385.74,42.44 L386.84,42.19 L387.95,41.95 L389.05,41.72 L390.15,41.50 L391.26,41.29 L392.36,41.09 L393.46,40.89 L394.57,40.70 L395.67,40.52 L396.77,40.34 L397.88,40.17 L398.98,40.00 L400.08,39.84 L401.19,39.69 L402.29,39.54 L403.39,39.40 L404.50,39.26 L405.60,39.13 L406.70,39.00 L407.81,38.88 L408.91,38.76 L410.02,38.65 L411.12,38.54 L412.22,38.43 L413.33,38.33 L414.43,38.23 L415.53,38.13 L416.64,38.04 L417.74,37.95 L418.84,37.87 L419.95,37.78 L421.05,37.71 L422.15,37.63 L423.26,37.55 L424.36,37.48 L425.46,37.41 L426.57,37.35 L427.67,37.28 L428.77,37.22 L429.88,37.16 L430.98,37.11 L432.08,37.05 L433.19,37.00 L434.29,36.95 L435.39,36.90 L436.50,36.85 L437.60,36.80 L438.70,36.76 L439.81,36.71 L440.91,36.67" fill="none" stroke="#000" stroke-width="2.0" stroke-linejoin="round" />
<path d="M308.50,122.53 L309.60,118.44 L310.71,114.81 L311.81,111.43 L312.91,108.25 L314.02,105.25 L315.12,102.40 L316.22,99.69 L317.33,97.12 L318.43,94.66 L319.53,92.32 L320.64,90.08 L321.74,87.94 L322.84,85.90 L323.95,83.95 L325.05,82.08 L326.15,80.29 L327.26,78.58 L328.36,76.94 L329.47,75.36 L330.57,73.86 L331.67,72.41 L332.78,71.03 L333.88,69.70 L334.98,68.42 L336.09,67.20 L337.19,66.03 L338.29,64.90 L339.40,63.82 L340.50,62.78 L341.60,61.78 L342.71,60.83 L343.81,59.91 L344.91,59.03 L346.02,58.18 L347.12,57.36 L348.22,56.58 L349.33,55.83 L350.43,55.11 L351.53,54.41 L352.64,53.75 L353.74,53.10 L354.84,52.49 L355.95,51.89 L357.05,51.32 L358.15,50.78 L359.26,50.25 L360.36,49.74 L361.46,49.25 L362.57,48.79 L363.67,48.33 L364.77,47.90 L365.88,47.48 L366.98,47.08 L368.08,46.70 L369.19,46.32 L370.29,45.97 L371.40,45.62 L372.50,45.29 L373.60,44.97 L374.71,44.67 L375.81,44.37 L376.91,44.09 L378.02,43.81 L379.12,43.55 L380.22,43.30 L381.33,43.05 L382.43,42.82 L383.53,42.59 L384.64,42.38 L385.74,42.17 L386.84,41.96 L387.95,41.77 L389.05,41.58 L390.15,41.40 L391.26,41.23 L392.36,41.06 L393.46,40.90 L394.57,40.75 L395.67,40.60 L396.77,40.45 L397.88,40.32 L398.98,40.18 L400.08,40.05 L401.19,39.93 L402.29,39.81 L403.39,39.70 L404.50,39.59 L405.60,39.48 L406.70,39.38 L407.81,39.28 L408.91,39.18 L410.02,39.09 L411.12,39.00 L412.22,38.92 L413.33,38.84 L414.43,38.76 L415.53,38.68 L416.64,38.61 L417.74,38.54 L418.84,38.47 L419.95,38.40 L421.05,38.34 L422.15,38.28 L423.26,38.22 L424.36,38.16 L425.46,38.11 L426.57,38.06 L427.67,38.01 L428.77,37.96 L429.88,37.91 L430.98,37.86 L432.08,37.82 L433.19,37.78 L434.29,37.74 L435.39,37.70 L436.50,37.66 L437.60,37.62 L438.70,37.59 L439.81,37.55 L440.91,37.52" fill="none" stroke="#4d4d4d" stroke-width="5.0" stroke-linejoin="round" />
<path d="M308.50,122.53 L309.60,118.44 L310.71,114.81 L311.81,111.43 L312.91,108.25 L314.02,105.25 L315.12,102.40 L316.22,99.69 L317.33,97.12 L318.43,94.66 L319.53,92.32 L320.64,90.08 L321.74,87.94 L322.84,85.90 L323.95,83.95 L325.05,82.08 L326.15,80.29 L327.26,78.58 L328.36,76.94 L329.47,75.36 L330.57,73.86 L331.67,72.41 L332.78,71.03 L333.88,69.70 L334.98,68.42 L336.09,67.20 L337.19,66.03 L338.29,64.90 L339.40,63.82 L340.50,62.78 L341.60,61.78 L342.71,60.83 L343.81,59.91 L344.91,59.03 L346.02,58.18 L347.12,57.36 L348.22,56.58 L349.33,55.83 L350.43,55.11 L351.53,54.41 L352.64,53.75 L353.74,53.10 L354.84,52.49 L355.95,51.89 L357.05,51.32 L358.15,50.78 L359.26,50.25 L360.36,49.74 L361.46,49.25 L362.57,48.79 L363.67,48.33 L364.77,47.90 L365.88,47.48 L366.98,47.08 L368.08,46.70 L369.19,46.32 L370.29,45.97 L371.40,45.62 L372.50,45.29 L373.60,44.97 L374.71,44.67 L375.81,44.37 L376.91,44.09 L378.02,43.81 L379.12,43.55 L380.22,43.30 L381.33,43.05 L382.43,42.82 L383.53,42.59 L384.64,42.38 L385.74,42.17 L386.84,41.96 L387.95,41.77 L389.05,41.58 L390.15,41.40 L391.26,41.23 L392.36,41.06 L393.46,40.90 L394.57,40.75 L395.67,40.60 L396.77,40.45 L397.88,40.32 L398.98,40.18 L400.08,40.05 L401.19,39.93 L402.29,39.81 L403.39,39.70 L404.50,39.59 L405.60,39.48 L406.70,39.38 L407.81,39.28 L408.91,39.18 L410.02,39.09 L411.12,39.00 L412.22,38.92 L413.33,38.84 L414.43,38.76 L415.53,38.68 L416.64,38.61 L417.74,38.54 L418.84,38.47 L419.95,38.40 L421.05,38.34 L422.15,38.28 L423.26,38.22 L424.36,38.16 L425.46,38.11 L426.57,38.06 L427.67,38.01 L428.77,37.96 L429.88,37.91 L430.98,37.86 L432.08,37.82 L433.19,37.78 L434.29,37.74 L435.39,37.70 L436.50,37.66 L437.60,37.62 L438.70,37.59 L439.81,37.55 L440.91,37.52" fill="none" stroke="#3868CA" stroke-width="2.5" stroke-linejoin="round" />
<path d="M308.50,120.44 L309.60,119.39 L310.71,117.89 L311.81,116.16 L312.91,114.29 L314.02,112.32 L315.12,110.28 L316.22,108.20 L317.33,106.10 L318.43,103.99 L319.53,101.88 L320.64,99.79 L321.74,97.73 L322.84,95.69 L323.95,93.70 L325.05,91.74 L326.15,89.83 L327.26,87.97 L328.36,86.16 L329.47,84.41 L330.57,82.71 L331.67,81.06 L332.78,79.48 L333.88,77.94 L334.98,76.47 L336.09,75.05 L337.19,73.68 L338.29,72.37 L339.40,71.11 L340.50,69.90 L341.60,68.75 L342.71,67.64 L343.81,66.58 L344.91,65.57 L346.02,64.60 L347.12,63.67 L348.22,62.79 L349.33,61.95 L350.43,61.14 L351.53,60.37 L352.64,59.64 L353.74,58.94 L354.84,58.27 L355.95,57.63 L357.05,57.03 L358.15,56.44 L359.26,55.89 L360.36,55.36 L361.46,54.85 L362.57,54.37 L363.67,53.91 L364.77,53.46 L365.88,53.04 L366.98,52.63 L368.08,52.24 L369.19,51.87 L370.29,51.51 L371.40,51.16 L372.50,50.83 L373.60,50.51 L374.71,50.20 L375.81,49.91 L376.91,49.62 L378.02,49.34 L379.12,49.07 L380.22,48.81 L381.33,48.55 L382.43,48.31 L383.53,48.07 L384.64,47.84 L385.74,47.61 L386.84,47.39 L387.95,47.17 L389.05,46.96 L390.15,46.75 L391.26,46.54 L392.36,46.34 L393.46,46.15 L394.57,45.95 L395.67,45.76 L396.77,45.57 L397.88,45.39 L398.98,45.21 L400.08,45.03 L401.19,44.85 L402.29,44.67 L403.39,44.49 L404.50,44.32 L405.60,44.15 L406.70,43.98 L407.81,43.81 L408.91,43.64 L410.02,43.47 L411.12,43.31 L412.22,43.14 L413.33,42.98 L414.43,42.81 L415.53,42.65 L416.64,42.49 L417.74,42.33 L418.84,42.17 L419.95,42.01 L421.05,41.84 L422.15,41.69 L423.26,41.53 L424.36,41.37 L425.46,41.21 L426.57,41.05 L427.67,40.89 L428.77,40.73 L429.88,40.58 L430.98,40.42 L432.08,40.26 L433.19,40.10 L434.29,39.95 L435.39,39.79 L436.50,39.63 L437.60,39.48 L438.70,39.32 L439.81,39.16 L440.91,39.01" fill="none" stroke="#4d4d4d" stroke-width="4.0" stroke-linejoin="round" />
<path d="M308.50,120.44 L309.60,119.39 L310.71,117.89 L311.81,116.16 L312.91,114.29 L314.02,112.32 L315.12,110.28 L316.22,108.20 L317.33,106.10 L318.43,103.99 L319.53,101.88 L320.64,99.79 L321.74,97.73 L322.84,95.69 L323.95,93.70 L325.05,91.74 L326.15,89.83 L327.26,87.97 L328.36,86.16 L329.47,84.41 L330.57,82.71 L331.67,81.06 L332.78,79.48 L333.88,77.94 L334.98,76.47 L336.09,75.05 L337.19,73.68 L338.29,72.37 L339.40,71.11 L340.50,69.90 L341.60,68.75 L342.71,67.64 L343.81,66.58 L344.91,65.57 L346.02,64.60 L347.12,63.67 L348.22,62.79 L349.33,61.95 L350.43,61.14 L351.53,60.37 L352.64,59.64 L353.74,58.94 L354.84,58.27 L355.95,57.63 L357.05,57.03 L358.15,56.44 L359.26,55.89 L360.36,55.36 L361.46,54.85 L362.57,54.37 L363.67,53.91 L364.77,53.46 L365.88,53.04 L366.98,52.63 L368.08,52.24 L369.19,51.87 L370.29,51.51 L371.40,51.16 L372.50,50.83 L373.60,50.51 L374.71,50.20 L375.81,49.91 L376.91,49.62 L378.02,49.34 L379.12,49.07 L380.22,48.81 L381.33,48.55 L382.43,48.31 L383.53,48.07 L384.64,47.84 L385.74,47.61 L386.84,47.39 L387.95,47.17 L389.05,46.96 L390.15,46.75 L391.26,46.54 L392.36,46.34 L393.46,46.15 L394.57,45.95 L395.67,45.76 L396.77,45.57 L397.88,45.39 L398.98,45.21 L400.08,45.03 L401.19,44.85 L402.29,44.67 L403.39,44.49 L404.50,44.32 L405.60,44.15 L406.70,43.98 L407.81,43.81 L408.91,43.64 L410.02,43.47 L411.12,43.31 L412.22,43.14 L413.33,42.98 L414.43,42.81 L415.53,42.65 L416.64,42.49 L417.74,42.33 L418.84,42.17 L419.95,42.01 L421.05,41.84 L422.15,41.69 L423.26,41.53 L424.36,41.37 L425.46,41.21 L426.57,41.05 L427.67,40.89 L428.77,40.73 L429.88,40.58 L430.98,40.42 L432.08,40.26 L433.19,40.10 L434.29,39.95 L435.39,39.79 L436.50,39.63 L437.60,39.48 L438.70,39.32 L439.81,39.16 L440.91,39.01" fill="none" stroke="#80C141" stroke-width="2.5" stroke-linejoin="round" />
<path d="M308.50,119.00 L309.60,118.32 L310.71,117.36 L311.81,116.24 L312.91,115.03 L314.02,113.74 L315.12,112.40 L316.22,111.02 L317.33,109.60 L318.43,108.17 L319.53,106.72 L320.64,105.27 L321.74,103.82 L322.84,102.37 L323.95,100.92 L325.05,99.49 L326.15,98.08 L327.26,96.67 L328.36,95.29 L329.47,93.93 L330.57,92.59 L331.67,91.28 L332.78,89.99 L333.88,88.73 L334.98,87.49 L336.09,86.28 L337.19,85.10 L338.29,83.95 L339.40,82.83 L340.50,81.74 L341.60,80.67 L342.71,79.64 L343.81,78.63 L344.91,77.65 L346.02,76.70 L347.12,75.78 L348.22,74.89 L349.33,74.02 L350.43,73.18 L351.53,72.37 L352.64,71.58 L353.74,70.82 L354.84,70.08 L355.95,69.36 L357.05,68.67 L358.15,68.00 L359.26,67.36 L360.36,66.73 L361.46,66.13 L362.57,65.54 L363.67,64.98 L364.77,64.43 L365.88,63.90 L366.98,63.39 L368.08,62.90 L369.19,62.42 L370.29,61.96 L371.40,61.52 L372.50,61.08 L373.60,60.67 L374.71,60.26 L375.81,59.87 L376.91,59.50 L378.02,59.13 L379.12,58.77 L380.22,58.43 L381.33,58.10 L382.43,57.78 L383.53,57.46 L384.64,57.16 L385.74,56.86 L386.84,56.58 L387.95,56.30 L389.05,56.03 L390.15,55.76 L391.26,55.51 L392.36,55.26 L393.46,55.01 L394.57,54.78 L395.67,54.55 L396.77,54.32 L397.88,54.10 L398.98,53.88 L400.08,53.67 L401.19,53.46 L402.29,53.26 L403.39,53.06 L404.50,52.87 L405.60,52.68 L406.70,52.49 L407.81,52.30 L408.91,52.12 L410.02,51.94 L411.12,51.77 L412.22,51.60 L413.33,51.43 L414.43,51.26 L415.53,51.09 L416.64,50.93 L417.74,50.76 L418.84,50.60 L419.95,50.45 L421.05,50.29 L422.15,50.13 L423.26,49.98 L424.36,49.83 L425.46,49.68 L426.57,49.53 L427.67,49.38 L428.77,49.23 L429.88,49.09 L430.98,48.94 L432.08,48.80 L433.19,48.65 L434.29,48.51 L435.39,48.37 L436.50,48.23 L437.60,48.09 L438.70,47.95 L439.81,47.81 L440.91,47.67" fill="none" stroke="#4d4d4d" stroke-width="4.0" stroke-linejoin="round" />
<path d="M308.50,119.00 L309.60,118.32 L310.71,117.36 L311.81,116.24 L312.91,115.03 L314.02,113.74 L315.12,112.40 L316.22,111.02 L317.33,109.60 L318.43,108.17 L319.53,106.72 L320.64,105.27 L321.74,103.82 L322.84,102.37 L323.95,100.92 L325.05,99.49 L326.15,98.08 L327.26,96.67 L328.36,95.29 L329.47,93.93 L330.57,92.59 L331.67,91.28 L332.78,89.99 L333.88,88.73 L334.98,87.49 L336.09,86.28 L337.19,85.10 L338.29,83.95 L339.40,82.83 L340.50,81.74 L341.60,80.67 L342.71,79.64 L343.81,78.63 L344.91,77.65 L346.02,76.70 L347.12,75.78 L348.22,74.89 L349.33,74.02 L350.43,73.18 L351.53,72.37 L352.64,71.58 L353.74,70.82 L354.84,70.08 L355.95,69.36 L357.05,68.67 L358.15,68.00 L359.26,67.36 L360.36,66.73 L361.46,66.13 L362.57,65.54 L363.67,64.98 L364.77,64.43 L365.88,63.90 L366.98,63.39 L368.08,62.90 L369.19,62.42 L370.29,61.96 L371.40,61.52 L372.50,61.08 L373.60,60.67 L374.71,60.26 L375.81,59.87 L376.91,59.50 L378.02,59.13 L379.12,58.77 L380.22,58.43 L381.33,58.10 L382.43,57.78 L383.53,57.46 L384.64,57.16 L385.74,56.86 L386.84,56.58 L387.95,56.30 L389.05,56.03 L390.15,55.76 L391.26,55.51 L392.36,55.26 L393.46,55.01 L394.57,54.78 L395.67,54.55 L396.77,54.32 L397.88,54.10 L398.98,53.88 L400.08,53.67 L401.19,53.46 L402.29,53.26 L403.39,53.06 L404.50,52.87 L405.60,52.68 L406.70,52.49 L407.81,52.30 L408.91,52.12 L410.02,51.94 L411.12,51.77 L412.22,51.60 L413.33,51.43 L414.43,51.26 L415.53,51.09 L416.64,50.93 L417.74,50.76 L418.84,50.60 L419.95,50.45 L421.05,50.29 L422.15,50.13 L423.26,49.98 L424.36,49.83 L425.46,49.68 L426.57,49.53 L427.67,49.38 L428.77,49.23 L429.88,49.09 L430.98,48.94 L432.08,48.80 L433.19,48.65 L434.29,48.51 L435.39,48.37 L436.50,48.23 L437.60,48.09 L438.70,47.95 L439.81,47.81 L440.91,47.67" fill="none" stroke="#FFC000" stroke-width="2.5" stroke-linejoin="round" />
<path d="M308.50,112.28 L309.60,111.21 L310.71,109.90 L311.81,108.52 L312.91,107.11 L314.02,105.70 L315.12,104.30 L316.22,102.93 L317.33,101.59 L318.43,100.28 L319.53,99.02 L320.64,97.80 L321.74,96.62 L322.84,95.48 L323.95,94.39 L325.05,93.35 L326.15,92.35 L327.26,91.40 L328.36,90.49 L329.47,89.62 L330.57,88.79 L331.67,88.00 L332.78,87.25 L333.88,86.54 L334.98,85.87 L336.09,85.23 L337.19,84.62 L338.29,84.04 L339.40,83.50 L340.50,82.98 L341.60,82.50 L342.71,82.04 L343.81,81.60 L344.91,81.19 L346.02,80.80 L347.12,80.43 L348.22,80.09 L349.33,79.76 L350.43,79.45 L351.53,79.16 L352.64,78.89 L353.74,78.63 L354.84,78.39 L355.95,78.16 L357.05,77.95 L358.15,77.74 L359.26,77.55 L360.36,77.37 L361.46,77.20 L362.57,77.04 L363.67,76.89 L364.77,76.75 L365.88,76.61 L366.98,76.49 L368.08,76.37 L369.19,76.25 L370.29,76.15 L371.40,76.05 L372.50,75.95 L373.60,75.86 L374.71,75.78 L375.81,75.70 L376.91,75.62 L378.02,75.55 L379.12,75.48 L380.22,75.42 L381.33,75.35 L382.43,75.30 L383.53,75.24 L384.64,75.19 L385.74,75.14 L386.84,75.09 L387.95,75.04 L389.05,75.00 L390.15,74.96 L391.26,74.92 L392.36,74.88 L393.46,74.84 L394.57,74.81 L395.67,74.77 L396.77,74.74 L397.88,74.71 L398.98,74.68 L400.08,74.65 L401.19,74.62 L402.29,74.59 L403.39,74.56 L404.50,74.53 L405.60,74.51 L406.70,74.48 L407.81,74.46 L408.91,74.43 L410.02,74.41 L411.12,74.39 L412.22,74.36 L413.33,74.34 L414.43,74.32 L415.53,74.30 L416.64,74.28 L417.74,74.26 L418.84,74.24 L419.95,74.22 L421.05,74.20 L422.15,74.18 L423.26,74.16 L424.36,74.14 L425.46,74.12 L426.57,74.10 L427.67,74.08 L428.77,74.06 L429.88,74.04 L430.98,74.02 L432.08,74.00 L433.19,73.99 L434.29,73.97 L435.39,73.95 L436.50,73.93 L437.60,73.91 L438.70,73.89 L439.81,73.88 L440.91,73.86" fill="none" stroke="#FF0000" stroke-width="2.8" stroke-linejoin="round" />
<line x1="308.50" y1="24.40" x2="308.50" y2="123.90" stroke="#3a3a3a" stroke-width="1" />
<line x1="305.50" y1="123.40" x2="308.50" y2="123.40" stroke="#3a3a3a" stroke-width="1" />
<line x1="305.50" y1="113.55" x2="308.50" y2="113.55" stroke="#3a3a3a" stroke-width="1" />
<line x1="305.50" y1="103.70" x2="308.50" y2="103.70" stroke="#3a3a3a" stroke-width="1" />
<line x1="305.50" y1="93.85" x2="308.50" y2="93.85" stroke="#3a3a3a" stroke-width="1" />
<line x1="305.50" y1="84.00" x2="308.50" y2="84.00" stroke="#3a3a3a" stroke-width="1" />
<line x1="305.50" y1="74.15" x2="308.50" y2="74.15" stroke="#3a3a3a" stroke-width="1" />
<line x1="305.50" y1="64.30" x2="308.50" y2="64.30" stroke="#3a3a3a" stroke-width="1" />
<line x1="305.50" y1="54.45" x2="308.50" y2="54.45" stroke="#3a3a3a" stroke-width="1" />
<line x1="305.50" y1="44.60" x2="308.50" y2="44.60" stroke="#3a3a3a" stroke-width="1" />
<line x1="305.50" y1="34.75" x2="308.50" y2="34.75" stroke="#3a3a3a" stroke-width="1" />
<line x1="305.50" y1="24.90" x2="308.50" y2="24.90" stroke="#3a3a3a" stroke-width="1" />
<text x="299.60" y="126.40" font-size="10.4" text-anchor="end" fill="#1a1a1a" stroke="#1a1a1a" stroke-width="0.18" >0</text>
<text x="299.60" y="106.70" font-size="10.4" text-anchor="end" fill="#1a1a1a" stroke="#1a1a1a" stroke-width="0.18" >0.3</text>
<text x="299.60" y="87.00" font-size="10.4" text-anchor="end" fill="#1a1a1a" stroke="#1a1a1a" stroke-width="0.18" >0.6</text>
<text x="299.60" y="67.30" font-size="10.4" text-anchor="end" fill="#1a1a1a" stroke="#1a1a1a" stroke-width="0.18" >0.9</text>
<text x="299.60" y="47.60" font-size="10.4" text-anchor="end" fill="#1a1a1a" stroke="#1a1a1a" stroke-width="0.18" >1.2</text>
<text x="299.60" y="27.90" font-size="10.4" text-anchor="end" fill="#1a1a1a" stroke="#1a1a1a" stroke-width="0.18" >1.5</text>
<line x1="308.00" y1="123.50" x2="440.10" y2="123.50" stroke="#3a3a3a" stroke-width="1" />
<line x1="308.50" y1="123.50" x2="308.50" y2="126.00" stroke="#3a3a3a" stroke-width="1" />
<line x1="315.78" y1="123.50" x2="315.78" y2="126.00" stroke="#3a3a3a" stroke-width="1" />
<line x1="323.07" y1="123.50" x2="323.07" y2="126.00" stroke="#3a3a3a" stroke-width="1" />
<line x1="330.35" y1="123.50" x2="330.35" y2="126.00" stroke="#3a3a3a" stroke-width="1" />
<line x1="337.63" y1="123.50" x2="337.63" y2="126.00" stroke="#3a3a3a" stroke-width="1" />
<line x1="344.92" y1="123.50" x2="344.92" y2="126.00" stroke="#3a3a3a" stroke-width="1" />
<line x1="352.20" y1="123.50" x2="352.20" y2="126.00" stroke="#3a3a3a" stroke-width="1" />
<line x1="359.48" y1="123.50" x2="359.48" y2="126.00" stroke="#3a3a3a" stroke-width="1" />
<line x1="366.77" y1="123.50" x2="366.77" y2="126.00" stroke="#3a3a3a" stroke-width="1" />
<line x1="374.05" y1="123.50" x2="374.05" y2="126.00" stroke="#3a3a3a" stroke-width="1" />
<line x1="381.33" y1="123.50" x2="381.33" y2="126.00" stroke="#3a3a3a" stroke-width="1" />
<line x1="388.62" y1="123.50" x2="388.62" y2="126.00" stroke="#3a3a3a" stroke-width="1" />
<line x1="395.90" y1="123.50" x2="395.90" y2="126.00" stroke="#3a3a3a" stroke-width="1" />
<line x1="403.18" y1="123.50" x2="403.18" y2="126.00" stroke="#3a3a3a" stroke-width="1" />
<line x1="410.47" y1="123.50" x2="410.47" y2="126.00" stroke="#3a3a3a" stroke-width="1" />
<line x1="417.75" y1="123.50" x2="417.75" y2="126.00" stroke="#3a3a3a" stroke-width="1" />
<line x1="425.03" y1="123.50" x2="425.03" y2="126.00" stroke="#3a3a3a" stroke-width="1" />
<line x1="432.32" y1="123.50" x2="432.32" y2="126.00" stroke="#3a3a3a" stroke-width="1" />
<line x1="439.60" y1="123.50" x2="439.60" y2="126.00" stroke="#3a3a3a" stroke-width="1" />
<text transform="translate(311.10,128.00) rotate(-90)" font-size="7.4" text-anchor="end" fill="#1a1a1a" stroke="#1a1a1a" stroke-width="0.18" textLength="13.2" lengthAdjust="spacingAndGlyphs" >0:00</text>
<text transform="translate(322.03,128.00) rotate(-90)" font-size="7.4" text-anchor="end" fill="#1a1a1a" stroke="#1a1a1a" stroke-width="0.18" textLength="13.2" lengthAdjust="spacingAndGlyphs" >2:30</text>
<text transform="translate(332.95,128.00) rotate(-90)" font-size="7.4" text-anchor="end" fill="#1a1a1a" stroke="#1a1a1a" stroke-width="0.18" textLength="13.2" lengthAdjust="spacingAndGlyphs" >5:00</text>
<text transform="translate(343.88,128.00) rotate(-90)" font-size="7.4" text-anchor="end" fill="#1a1a1a" stroke="#1a1a1a" stroke-width="0.18" textLength="13.2" lengthAdjust="spacingAndGlyphs" >7:30</text>
<text transform="translate(354.80,128.00) rotate(-90)" font-size="7.4" text-anchor="end" fill="#1a1a1a" stroke="#1a1a1a" stroke-width="0.18" textLength="17.0" lengthAdjust="spacingAndGlyphs" >10:00</text>
<text transform="translate(365.73,128.00) rotate(-90)" font-size="7.4" text-anchor="end" fill="#1a1a1a" stroke="#1a1a1a" stroke-width="0.18" textLength="17.0" lengthAdjust="spacingAndGlyphs" >12:30</text>
<text transform="translate(376.65,128.00) rotate(-90)" font-size="7.4" text-anchor="end" fill="#1a1a1a" stroke="#1a1a1a" stroke-width="0.18" textLength="17.0" lengthAdjust="spacingAndGlyphs" >15:00</text>
<text transform="translate(387.58,128.00) rotate(-90)" font-size="7.4" text-anchor="end" fill="#1a1a1a" stroke="#1a1a1a" stroke-width="0.18" textLength="17.0" lengthAdjust="spacingAndGlyphs" >17:30</text>
<text transform="translate(398.50,128.00) rotate(-90)" font-size="7.4" text-anchor="end" fill="#1a1a1a" stroke="#1a1a1a" stroke-width="0.18" textLength="17.0" lengthAdjust="spacingAndGlyphs" >20:00</text>
<text transform="translate(409.43,128.00) rotate(-90)" font-size="7.4" text-anchor="end" fill="#1a1a1a" stroke="#1a1a1a" stroke-width="0.18" textLength="17.0" lengthAdjust="spacingAndGlyphs" >22:30</text>
<text transform="translate(420.35,128.00) rotate(-90)" font-size="7.4" text-anchor="end" fill="#1a1a1a" stroke="#1a1a1a" stroke-width="0.18" textLength="17.0" lengthAdjust="spacingAndGlyphs" >25:00</text>
<text transform="translate(431.28,128.00) rotate(-90)" font-size="7.4" text-anchor="end" fill="#1a1a1a" stroke="#1a1a1a" stroke-width="0.18" textLength="17.0" lengthAdjust="spacingAndGlyphs" >27:30</text>
<text transform="translate(442.20,128.00) rotate(-90)" font-size="7.4" text-anchor="end" fill="#1a1a1a" stroke="#1a1a1a" stroke-width="0.18" textLength="17.0" lengthAdjust="spacingAndGlyphs" >30:00</text>
<line x1="455.60" y1="63.20" x2="474.60" y2="63.20" stroke="#000" stroke-width="2.0" />
<text x="477.50" y="66.30" font-size="9.5" fill="#1a1a1a" stroke="#1a1a1a" stroke-width="0.18" >0 μg/mL</text>
<line x1="455.60" y1="74.05" x2="474.60" y2="74.05" stroke="#3868CA" stroke-width="2.0" />
<text x="477.50" y="77.15" font-size="9.5" fill="#1a1a1a" stroke="#1a1a1a" stroke-width="0.18" >25 μg/mL</text>
<line x1="455.60" y1="84.90" x2="474.60" y2="84.90" stroke="#80C141" stroke-width="2.0" />
<text x="477.50" y="88.00" font-size="9.5" fill="#1a1a1a" stroke="#1a1a1a" stroke-width="0.18" >50 μg/mL</text>
<line x1="455.60" y1="95.75" x2="474.60" y2="95.75" stroke="#FFC000" stroke-width="2.0" />
<text x="477.50" y="98.85" font-size="9.5" fill="#1a1a1a" stroke="#1a1a1a" stroke-width="0.18" >100 μg/mL</text>
<line x1="455.60" y1="106.60" x2="474.60" y2="106.60" stroke="#FF0000" stroke-width="2.0" />
<text x="477.50" y="109.70" font-size="9.5" fill="#1a1a1a" stroke="#1a1a1a" stroke-width="0.18" >200 μg/mL</text>
<text x="3.30" y="173.20" font-size="14.5" font-weight="bold" stroke="#000" stroke-width="0.08" >C</text>
<line x1="46.50" y1="179.80" x2="46.50" y2="281.00" stroke="#3a3a3a" stroke-width="1" />
<line x1="43.50" y1="280.50" x2="46.50" y2="280.50" stroke="#3a3a3a" stroke-width="1" />
<line x1="43.50" y1="272.15" x2="46.50" y2="272.15" stroke="#3a3a3a" stroke-width="1" />
<line x1="43.50" y1="263.80" x2="46.50" y2="263.80" stroke="#3a3a3a" stroke-width="1" />
<line x1="43.50" y1="255.45" x2="46.50" y2="255.45" stroke="#3a3a3a" stroke-width="1" />
<line x1="43.50" y1="247.10" x2="46.50" y2="247.10" stroke="#3a3a3a" stroke-width="1" />
<line x1="43.50" y1="238.75" x2="46.50" y2="238.75" stroke="#3a3a3a" stroke-width="1" />
<line x1="43.50" y1="230.40" x2="46.50" y2="230.40" stroke="#3a3a3a" stroke-width="1" />
<line x1="43.50" y1="222.05" x2="46.50" y2="222.05" stroke="#3a3a3a" stroke-width="1" />
<line x1="43.50" y1="213.70" x2="46.50" y2="213.70" stroke="#3a3a3a" stroke-width="1" />
<line x1="43.50" y1="205.35" x2="46.50" y2="205.35" stroke="#3a3a3a" stroke-width="1" />
<line x1="43.50" y1="197.00" x2="46.50" y2="197.00" stroke="#3a3a3a" stroke-width="1" />
<line x1="43.50" y1="188.65" x2="46.50" y2="188.65" stroke="#3a3a3a" stroke-width="1" />
<line x1="43.50" y1="180.30" x2="46.50" y2="180.30" stroke="#3a3a3a" stroke-width="1" />
<text x="38.20" y="283.40" font-size="10.5" text-anchor="end" fill="#1a1a1a" stroke="#1a1a1a" stroke-width="0.18" >0</text>
<text x="38.20" y="266.70" font-size="10.5" text-anchor="end" fill="#1a1a1a" stroke="#1a1a1a" stroke-width="0.18" >0.05</text>
<text x="38.20" y="250.00" font-size="10.5" text-anchor="end" fill="#1a1a1a" stroke="#1a1a1a" stroke-width="0.18" >0.1</text>
<text x="38.20" y="233.30" font-size="10.5" text-anchor="end" fill="#1a1a1a" stroke="#1a1a1a" stroke-width="0.18" >0.15</text>
<text x="38.20" y="216.60" font-size="10.5" text-anchor="end" fill="#1a1a1a" stroke="#1a1a1a" stroke-width="0.18" >0.2</text>
<text x="38.20" y="199.90" font-size="10.5" text-anchor="end" fill="#1a1a1a" stroke="#1a1a1a" stroke-width="0.18" >0.25</text>
<text x="38.20" y="183.20" font-size="10.5" text-anchor="end" fill="#1a1a1a" stroke="#1a1a1a" stroke-width="0.18" >0.3</text>
<line x1="46.00" y1="280.50" x2="172.30" y2="280.50" stroke="#3a3a3a" stroke-width="1" />
<line x1="46.50" y1="280.50" x2="46.50" y2="283.50" stroke="#3a3a3a" stroke-width="1" />
<line x1="62.16" y1="280.50" x2="62.16" y2="283.50" stroke="#3a3a3a" stroke-width="1" />
<line x1="77.83" y1="280.50" x2="77.83" y2="283.50" stroke="#3a3a3a" stroke-width="1" />
<line x1="93.49" y1="280.50" x2="93.49" y2="283.50" stroke="#3a3a3a" stroke-width="1" />
<line x1="109.15" y1="280.50" x2="109.15" y2="283.50" stroke="#3a3a3a" stroke-width="1" />
<line x1="124.81" y1="280.50" x2="124.81" y2="283.50" stroke="#3a3a3a" stroke-width="1" />
<line x1="140.47" y1="280.50" x2="140.47" y2="283.50" stroke="#3a3a3a" stroke-width="1" />
<line x1="156.14" y1="280.50" x2="156.14" y2="283.50" stroke="#3a3a3a" stroke-width="1" />
<line x1="171.80" y1="280.50" x2="171.80" y2="283.50" stroke="#3a3a3a" stroke-width="1" />
<text x="46.50" y="296.60" font-size="10.5" text-anchor="middle" fill="#1a1a1a" stroke="#1a1a1a" stroke-width="0.18" >0</text>
<text x="77.83" y="296.60" font-size="10.5" text-anchor="middle" fill="#1a1a1a" stroke="#1a1a1a" stroke-width="0.18" >50</text>
<text x="109.15" y="296.60" font-size="10.5" text-anchor="middle" fill="#1a1a1a" stroke="#1a1a1a" stroke-width="0.18" >100</text>
<text x="140.47" y="296.60" font-size="10.5" text-anchor="middle" fill="#1a1a1a" stroke="#1a1a1a" stroke-width="0.18" >150</text>
<text x="171.80" y="296.60" font-size="10.5" text-anchor="middle" fill="#1a1a1a" stroke="#1a1a1a" stroke-width="0.18" >200</text>
<path d="M46.50,242.76 L62.16,222.05 L77.83,247.10 L109.15,239.42 L171.80,237.75" fill="none" stroke="#A5A5A5" stroke-width="1.7" stroke-linejoin="round"/>
<path d="M46.50,192.32 L62.16,218.71 L77.83,217.04 L109.15,211.36 L171.80,228.40" fill="none" stroke="#FFC000" stroke-width="1.6" stroke-linejoin="round"/>
<path d="M46.50,239.46 L49.80,245.40 L43.20,245.40 Z" fill="#A5A5A5"/>
<path d="M62.16,218.75 L65.46,224.69 L58.86,224.69 Z" fill="#A5A5A5"/>
<path d="M77.83,243.80 L81.12,249.74 L74.53,249.74 Z" fill="#A5A5A5"/>
<path d="M109.15,236.12 L112.45,242.06 L105.85,242.06 Z" fill="#A5A5A5"/>
<path d="M171.80,234.45 L175.10,240.39 L168.50,240.39 Z" fill="#A5A5A5"/>
<path d="M43.70,189.52 L49.30,195.12 M49.30,189.52 L43.70,195.12" stroke="#FFC000" stroke-width="1"/>
<path d="M59.36,215.91 L64.96,221.51 M64.96,215.91 L59.36,221.51" stroke="#FFC000" stroke-width="1"/>
<path d="M75.03,214.24 L80.62,219.84 M80.62,214.24 L75.03,219.84" stroke="#FFC000" stroke-width="1"/>
<path d="M106.35,208.56 L111.95,214.16 M111.95,208.56 L106.35,214.16" stroke="#FFC000" stroke-width="1"/>
<path d="M169.00,225.60 L174.60,231.20 M174.60,225.60 L169.00,231.20" stroke="#FFC000" stroke-width="1"/>
<line x1="46.50" y1="241.09" x2="46.50" y2="244.43" stroke="#7f7f7f" stroke-width="1" />
<line x1="44.50" y1="241.09" x2="48.50" y2="241.09" stroke="#7f7f7f" stroke-width="1" />
<line x1="44.50" y1="244.43" x2="48.50" y2="244.43" stroke="#7f7f7f" stroke-width="1" />
<line x1="62.16" y1="219.38" x2="62.16" y2="224.72" stroke="#7f7f7f" stroke-width="1" />
<line x1="60.16" y1="219.38" x2="64.16" y2="219.38" stroke="#7f7f7f" stroke-width="1" />
<line x1="60.16" y1="224.72" x2="64.16" y2="224.72" stroke="#7f7f7f" stroke-width="1" />
<line x1="77.83" y1="246.10" x2="77.83" y2="248.10" stroke="#7f7f7f" stroke-width="1" />
<line x1="75.83" y1="246.10" x2="79.83" y2="246.10" stroke="#7f7f7f" stroke-width="1" />
<line x1="75.83" y1="248.10" x2="79.83" y2="248.10" stroke="#7f7f7f" stroke-width="1" />
<line x1="109.15" y1="238.08" x2="109.15" y2="240.75" stroke="#7f7f7f" stroke-width="1" />
<line x1="107.15" y1="238.08" x2="111.15" y2="238.08" stroke="#7f7f7f" stroke-width="1" />
<line x1="107.15" y1="240.75" x2="111.15" y2="240.75" stroke="#7f7f7f" stroke-width="1" />
<line x1="171.80" y1="235.74" x2="171.80" y2="239.75" stroke="#7f7f7f" stroke-width="1" />
<line x1="169.80" y1="235.74" x2="173.80" y2="235.74" stroke="#7f7f7f" stroke-width="1" />
<line x1="169.80" y1="239.75" x2="173.80" y2="239.75" stroke="#7f7f7f" stroke-width="1" />
<line x1="46.50" y1="190.32" x2="46.50" y2="194.33" stroke="#7f7f7f" stroke-width="1" />
<line x1="44.50" y1="190.32" x2="48.50" y2="190.32" stroke="#7f7f7f" stroke-width="1" />
<line x1="44.50" y1="194.33" x2="48.50" y2="194.33" stroke="#7f7f7f" stroke-width="1" />
<line x1="62.16" y1="215.04" x2="62.16" y2="222.38" stroke="#7f7f7f" stroke-width="1" />
<line x1="60.16" y1="215.04" x2="64.16" y2="215.04" stroke="#7f7f7f" stroke-width="1" />
<line x1="60.16" y1="222.38" x2="64.16" y2="222.38" stroke="#7f7f7f" stroke-width="1" />
<line x1="77.83" y1="211.36" x2="77.83" y2="222.72" stroke="#7f7f7f" stroke-width="1" />
<line x1="75.83" y1="211.36" x2="79.83" y2="211.36" stroke="#7f7f7f" stroke-width="1" />
<line x1="75.83" y1="222.72" x2="79.83" y2="222.72" stroke="#7f7f7f" stroke-width="1" />
<line x1="109.15" y1="207.02" x2="109.15" y2="215.70" stroke="#7f7f7f" stroke-width="1" />
<line x1="107.15" y1="207.02" x2="111.15" y2="207.02" stroke="#7f7f7f" stroke-width="1" />
<line x1="107.15" y1="215.70" x2="111.15" y2="215.70" stroke="#7f7f7f" stroke-width="1" />
<line x1="171.80" y1="224.72" x2="171.80" y2="232.07" stroke="#7f7f7f" stroke-width="1" />
<line x1="169.80" y1="224.72" x2="173.80" y2="224.72" stroke="#7f7f7f" stroke-width="1" />
<line x1="169.80" y1="232.07" x2="173.80" y2="232.07" stroke="#7f7f7f" stroke-width="1" />
<text transform="translate(12.80,238.20) rotate(-90)" font-size="10.2" font-weight="bold" text-anchor="middle" stroke="#000" stroke-width="0.08" textLength="73.6" lengthAdjust="spacingAndGlyphs" >Slope (AU/min)</text>
<text x="81.60" y="312.20" font-size="10.0" font-weight="bold" stroke="#000" stroke-width="0.08" textLength="65.2" lengthAdjust="spacingAndGlyphs" >[aPS] (μg/mL)</text>
<line x1="113.60" y1="185.00" x2="133.60" y2="185.00" stroke="#A5A5A5" stroke-width="1.8" />
<path d="M123.60,181.70 L126.90,187.64 L120.30,187.64 Z" fill="#A5A5A5"/>
<text x="136.00" y="188.30" font-size="10.0" fill="#1a1a1a" stroke="#1a1a1a" stroke-width="0.18" textLength="37.0" lengthAdjust="spacingAndGlyphs" >aPS + T</text>
<line x1="113.60" y1="202.00" x2="133.60" y2="202.00" stroke="#FFC000" stroke-width="1.8" />
<path d="M120.80,199.20 L126.40,204.80 M126.40,199.20 L120.80,204.80" stroke="#FFC000" stroke-width="1"/>
<text x="136.00" y="205.30" font-size="10.0" fill="#1a1a1a" stroke="#1a1a1a" stroke-width="0.18" textLength="36.5" lengthAdjust="spacingAndGlyphs" >aPS + F</text>
<text x="184.00" y="172.90" font-size="14.5" font-weight="bold" stroke="#000" stroke-width="0.08" >D</text>
<line x1="228.50" y1="179.50" x2="228.50" y2="281.00" stroke="#3a3a3a" stroke-width="1" />
<line x1="225.50" y1="280.90" x2="228.50" y2="280.90" stroke="#3a3a3a" stroke-width="1" />
<line x1="225.50" y1="268.29" x2="228.50" y2="268.29" stroke="#3a3a3a" stroke-width="1" />
<line x1="225.50" y1="255.67" x2="228.50" y2="255.67" stroke="#3a3a3a" stroke-width="1" />
<line x1="225.50" y1="243.06" x2="228.50" y2="243.06" stroke="#3a3a3a" stroke-width="1" />
<line x1="225.50" y1="230.45" x2="228.50" y2="230.45" stroke="#3a3a3a" stroke-width="1" />
<line x1="225.50" y1="217.84" x2="228.50" y2="217.84" stroke="#3a3a3a" stroke-width="1" />
<line x1="225.50" y1="205.22" x2="228.50" y2="205.22" stroke="#3a3a3a" stroke-width="1" />
<line x1="225.50" y1="192.61" x2="228.50" y2="192.61" stroke="#3a3a3a" stroke-width="1" />
<line x1="225.50" y1="180.00" x2="228.50" y2="180.00" stroke="#3a3a3a" stroke-width="1" />
<text x="219.60" y="283.80" font-size="10.5" text-anchor="end" fill="#1a1a1a" stroke="#1a1a1a" stroke-width="0.18" >0</text>
<text x="219.60" y="258.57" font-size="10.5" text-anchor="end" fill="#1a1a1a" stroke="#1a1a1a" stroke-width="0.18" >300</text>
<text x="219.60" y="233.35" font-size="10.5" text-anchor="end" fill="#1a1a1a" stroke="#1a1a1a" stroke-width="0.18" >600</text>
<text x="219.60" y="208.12" font-size="10.5" text-anchor="end" fill="#1a1a1a" stroke="#1a1a1a" stroke-width="0.18" >900</text>
<text x="219.60" y="182.90" font-size="10.5" text-anchor="end" fill="#1a1a1a" stroke="#1a1a1a" stroke-width="0.18" >1200</text>
<line x1="228.00" y1="280.50" x2="357.00" y2="280.50" stroke="#3a3a3a" stroke-width="1" />
<line x1="228.30" y1="280.50" x2="228.30" y2="283.50" stroke="#3a3a3a" stroke-width="1" />
<line x1="244.33" y1="280.50" x2="244.33" y2="283.50" stroke="#3a3a3a" stroke-width="1" />
<line x1="260.35" y1="280.50" x2="260.35" y2="283.50" stroke="#3a3a3a" stroke-width="1" />
<line x1="276.38" y1="280.50" x2="276.38" y2="283.50" stroke="#3a3a3a" stroke-width="1" />
<line x1="292.40" y1="280.50" x2="292.40" y2="283.50" stroke="#3a3a3a" stroke-width="1" />
<line x1="308.43" y1="280.50" x2="308.43" y2="283.50" stroke="#3a3a3a" stroke-width="1" />
<line x1="324.45" y1="280.50" x2="324.45" y2="283.50" stroke="#3a3a3a" stroke-width="1" />
<line x1="340.48" y1="280.50" x2="340.48" y2="283.50" stroke="#3a3a3a" stroke-width="1" />
<line x1="356.50" y1="280.50" x2="356.50" y2="283.50" stroke="#3a3a3a" stroke-width="1" />
<text x="228.30" y="296.40" font-size="10.5" text-anchor="middle" fill="#1a1a1a" stroke="#1a1a1a" stroke-width="0.18" >0</text>
<text x="260.35" y="296.40" font-size="10.5" text-anchor="middle" fill="#1a1a1a" stroke="#1a1a1a" stroke-width="0.18" >50</text>
<text x="292.40" y="296.40" font-size="10.5" text-anchor="middle" fill="#1a1a1a" stroke="#1a1a1a" stroke-width="0.18" >100</text>
<text x="324.45" y="296.40" font-size="10.5" text-anchor="middle" fill="#1a1a1a" stroke="#1a1a1a" stroke-width="0.18" >150</text>
<text x="356.50" y="296.40" font-size="10.5" text-anchor="middle" fill="#1a1a1a" stroke="#1a1a1a" stroke-width="0.18" >200</text>
<path d="M228.30,206.99 L244.33,236.50 L260.35,196.98 L292.40,194.97 L356.50,196.56" fill="none" stroke="#A5A5A5" stroke-width="1.7" stroke-linejoin="round"/>
<path d="M228.30,241.72 L244.33,246.68 L260.35,252.65 L292.40,244.74 L356.50,251.05" fill="none" stroke="#FFC000" stroke-width="1.6" stroke-linejoin="round"/>
<path d="M228.30,203.69 L231.60,209.63 L225.00,209.63 Z" fill="#A5A5A5"/>
<path d="M244.33,233.20 L247.63,239.14 L241.03,239.14 Z" fill="#A5A5A5"/>
<path d="M260.35,193.68 L263.65,199.62 L257.05,199.62 Z" fill="#A5A5A5"/>
<path d="M292.40,191.67 L295.70,197.61 L289.10,197.61 Z" fill="#A5A5A5"/>
<path d="M356.50,193.26 L359.80,199.20 L353.20,199.20 Z" fill="#A5A5A5"/>
<path d="M225.50,238.92 L231.10,244.52 M231.10,238.92 L225.50,244.52" stroke="#FFC000" stroke-width="1"/>
<path d="M241.53,243.88 L247.13,249.48 M247.13,243.88 L241.53,249.48" stroke="#FFC000" stroke-width="1"/>
<path d="M257.55,249.85 L263.15,255.45 M263.15,249.85 L257.55,255.45" stroke="#FFC000" stroke-width="1"/>
<path d="M289.60,241.94 L295.20,247.54 M295.20,241.94 L289.60,247.54" stroke="#FFC000" stroke-width="1"/>
<path d="M353.70,248.25 L359.30,253.85 M359.30,248.25 L353.70,253.85" stroke="#FFC000" stroke-width="1"/>
<line x1="228.30" y1="205.31" x2="228.30" y2="208.67" stroke="#7f7f7f" stroke-width="1" />
<line x1="226.30" y1="205.31" x2="230.30" y2="205.31" stroke="#7f7f7f" stroke-width="1" />
<line x1="226.30" y1="208.67" x2="230.30" y2="208.67" stroke="#7f7f7f" stroke-width="1" />
<line x1="244.33" y1="233.14" x2="244.33" y2="239.87" stroke="#7f7f7f" stroke-width="1" />
<line x1="242.33" y1="233.14" x2="246.33" y2="233.14" stroke="#7f7f7f" stroke-width="1" />
<line x1="242.33" y1="239.87" x2="246.33" y2="239.87" stroke="#7f7f7f" stroke-width="1" />
<line x1="260.35" y1="192.36" x2="260.35" y2="201.61" stroke="#7f7f7f" stroke-width="1" />
<line x1="258.35" y1="192.36" x2="262.35" y2="192.36" stroke="#7f7f7f" stroke-width="1" />
<line x1="258.35" y1="201.61" x2="262.35" y2="201.61" stroke="#7f7f7f" stroke-width="1" />
<line x1="292.40" y1="193.71" x2="292.40" y2="196.23" stroke="#7f7f7f" stroke-width="1" />
<line x1="290.40" y1="193.71" x2="294.40" y2="193.71" stroke="#7f7f7f" stroke-width="1" />
<line x1="290.40" y1="196.23" x2="294.40" y2="196.23" stroke="#7f7f7f" stroke-width="1" />
<line x1="356.50" y1="195.72" x2="356.50" y2="197.41" stroke="#7f7f7f" stroke-width="1" />
<line x1="354.50" y1="195.72" x2="358.50" y2="195.72" stroke="#7f7f7f" stroke-width="1" />
<line x1="354.50" y1="197.41" x2="358.50" y2="197.41" stroke="#7f7f7f" stroke-width="1" />
<line x1="228.30" y1="238.35" x2="228.30" y2="245.08" stroke="#7f7f7f" stroke-width="1" />
<line x1="226.30" y1="238.35" x2="230.30" y2="238.35" stroke="#7f7f7f" stroke-width="1" />
<line x1="226.30" y1="245.08" x2="230.30" y2="245.08" stroke="#7f7f7f" stroke-width="1" />
<line x1="244.33" y1="239.11" x2="244.33" y2="254.25" stroke="#7f7f7f" stroke-width="1" />
<line x1="242.33" y1="239.11" x2="246.33" y2="239.11" stroke="#7f7f7f" stroke-width="1" />
<line x1="242.33" y1="254.25" x2="246.33" y2="254.25" stroke="#7f7f7f" stroke-width="1" />
<line x1="260.35" y1="250.97" x2="260.35" y2="254.33" stroke="#7f7f7f" stroke-width="1" />
<line x1="258.35" y1="250.97" x2="262.35" y2="250.97" stroke="#7f7f7f" stroke-width="1" />
<line x1="258.35" y1="254.33" x2="262.35" y2="254.33" stroke="#7f7f7f" stroke-width="1" />
<line x1="292.40" y1="243.06" x2="292.40" y2="246.43" stroke="#7f7f7f" stroke-width="1" />
<line x1="290.40" y1="243.06" x2="294.40" y2="243.06" stroke="#7f7f7f" stroke-width="1" />
<line x1="290.40" y1="246.43" x2="294.40" y2="246.43" stroke="#7f7f7f" stroke-width="1" />
<line x1="356.50" y1="250.04" x2="356.50" y2="252.06" stroke="#7f7f7f" stroke-width="1" />
<line x1="354.50" y1="250.04" x2="358.50" y2="250.04" stroke="#7f7f7f" stroke-width="1" />
<line x1="354.50" y1="252.06" x2="358.50" y2="252.06" stroke="#7f7f7f" stroke-width="1" />
<text transform="translate(197.80,246.30) rotate(-90)" font-size="10.0" font-weight="bold" text-anchor="middle" stroke="#000" stroke-width="0.08" textLength="96" lengthAdjust="spacingAndGlyphs" >Time to 90% Max (s)</text>
<text x="265.00" y="312.20" font-size="10.0" font-weight="bold" stroke="#000" stroke-width="0.08" textLength="65.2" lengthAdjust="spacingAndGlyphs" >[aPS] (μg/mL)</text>
<text x="372.80" y="173.60" font-size="14.5" font-weight="bold" stroke="#000" stroke-width="0.08" >E</text>
<line x1="411.50" y1="179.50" x2="411.50" y2="283.00" stroke="#3a3a3a" stroke-width="1" />
<line x1="408.50" y1="282.60" x2="411.50" y2="282.60" stroke="#3a3a3a" stroke-width="1" />
<line x1="408.50" y1="274.05" x2="411.50" y2="274.05" stroke="#3a3a3a" stroke-width="1" />
<line x1="408.50" y1="265.50" x2="411.50" y2="265.50" stroke="#3a3a3a" stroke-width="1" />
<line x1="408.50" y1="256.95" x2="411.50" y2="256.95" stroke="#3a3a3a" stroke-width="1" />
<line x1="408.50" y1="248.40" x2="411.50" y2="248.40" stroke="#3a3a3a" stroke-width="1" />
<line x1="408.50" y1="239.85" x2="411.50" y2="239.85" stroke="#3a3a3a" stroke-width="1" />
<line x1="408.50" y1="231.30" x2="411.50" y2="231.30" stroke="#3a3a3a" stroke-width="1" />
<line x1="408.50" y1="222.75" x2="411.50" y2="222.75" stroke="#3a3a3a" stroke-width="1" />
<line x1="408.50" y1="214.20" x2="411.50" y2="214.20" stroke="#3a3a3a" stroke-width="1" />
<line x1="408.50" y1="205.65" x2="411.50" y2="205.65" stroke="#3a3a3a" stroke-width="1" />
<line x1="408.50" y1="197.10" x2="411.50" y2="197.10" stroke="#3a3a3a" stroke-width="1" />
<line x1="408.50" y1="188.55" x2="411.50" y2="188.55" stroke="#3a3a3a" stroke-width="1" />
<line x1="408.50" y1="180.00" x2="411.50" y2="180.00" stroke="#3a3a3a" stroke-width="1" />
<text x="403.20" y="285.50" font-size="10.5" text-anchor="end" fill="#1a1a1a" stroke="#1a1a1a" stroke-width="0.18" >0</text>
<text x="403.20" y="268.40" font-size="10.5" text-anchor="end" fill="#1a1a1a" stroke="#1a1a1a" stroke-width="0.18" >0.2</text>
<text x="403.20" y="251.30" font-size="10.5" text-anchor="end" fill="#1a1a1a" stroke="#1a1a1a" stroke-width="0.18" >0.4</text>
<text x="403.20" y="234.20" font-size="10.5" text-anchor="end" fill="#1a1a1a" stroke="#1a1a1a" stroke-width="0.18" >0.6</text>
<text x="403.20" y="217.10" font-size="10.5" text-anchor="end" fill="#1a1a1a" stroke="#1a1a1a" stroke-width="0.18" >0.8</text>
<text x="403.20" y="200.00" font-size="10.5" text-anchor="end" fill="#1a1a1a" stroke="#1a1a1a" stroke-width="0.18" >1</text>
<text x="403.20" y="182.90" font-size="10.5" text-anchor="end" fill="#1a1a1a" stroke="#1a1a1a" stroke-width="0.18" >1.2</text>
<line x1="411.00" y1="282.50" x2="538.50" y2="282.50" stroke="#3a3a3a" stroke-width="1" />
<line x1="411.70" y1="282.50" x2="411.70" y2="285.50" stroke="#3a3a3a" stroke-width="1" />
<line x1="427.49" y1="282.50" x2="427.49" y2="285.50" stroke="#3a3a3a" stroke-width="1" />
<line x1="443.27" y1="282.50" x2="443.27" y2="285.50" stroke="#3a3a3a" stroke-width="1" />
<line x1="459.06" y1="282.50" x2="459.06" y2="285.50" stroke="#3a3a3a" stroke-width="1" />
<line x1="474.85" y1="282.50" x2="474.85" y2="285.50" stroke="#3a3a3a" stroke-width="1" />
<line x1="490.64" y1="282.50" x2="490.64" y2="285.50" stroke="#3a3a3a" stroke-width="1" />
<line x1="506.42" y1="282.50" x2="506.42" y2="285.50" stroke="#3a3a3a" stroke-width="1" />
<line x1="522.21" y1="282.50" x2="522.21" y2="285.50" stroke="#3a3a3a" stroke-width="1" />
<line x1="538.00" y1="282.50" x2="538.00" y2="285.50" stroke="#3a3a3a" stroke-width="1" />
<text x="411.70" y="298.30" font-size="10.5" text-anchor="middle" fill="#1a1a1a" stroke="#1a1a1a" stroke-width="0.18" >0</text>
<text x="443.27" y="298.30" font-size="10.5" text-anchor="middle" fill="#1a1a1a" stroke="#1a1a1a" stroke-width="0.18" >50</text>
<text x="474.85" y="298.30" font-size="10.5" text-anchor="middle" fill="#1a1a1a" stroke="#1a1a1a" stroke-width="0.18" >100</text>
<text x="506.42" y="298.30" font-size="10.5" text-anchor="middle" fill="#1a1a1a" stroke="#1a1a1a" stroke-width="0.18" >150</text>
<text x="538.00" y="298.30" font-size="10.5" text-anchor="middle" fill="#1a1a1a" stroke="#1a1a1a" stroke-width="0.18" >200</text>
<path d="M411.70,197.10 L427.49,196.84 L443.27,206.08 L474.85,208.04 L538.00,223.61" fill="none" stroke="#A5A5A5" stroke-width="1.7" stroke-linejoin="round"/>
<path d="M411.70,197.10 L427.49,216.34 L443.27,215.74 L474.85,199.24 L538.00,207.36" fill="none" stroke="#FFC000" stroke-width="1.6" stroke-linejoin="round"/>
<path d="M411.70,193.80 L415.00,199.74 L408.40,199.74 Z" fill="#A5A5A5"/>
<path d="M427.49,193.54 L430.79,199.48 L424.19,199.48 Z" fill="#A5A5A5"/>
<path d="M443.27,202.78 L446.57,208.72 L439.97,208.72 Z" fill="#A5A5A5"/>
<path d="M474.85,204.74 L478.15,210.68 L471.55,210.68 Z" fill="#A5A5A5"/>
<path d="M538.00,220.31 L541.30,226.25 L534.70,226.25 Z" fill="#A5A5A5"/>
<path d="M408.90,194.30 L414.50,199.90 M414.50,194.30 L408.90,199.90" stroke="#FFC000" stroke-width="1"/>
<path d="M424.69,213.54 L430.29,219.14 M430.29,213.54 L424.69,219.14" stroke="#FFC000" stroke-width="1"/>
<path d="M440.47,212.94 L446.07,218.54 M446.07,212.94 L440.47,218.54" stroke="#FFC000" stroke-width="1"/>
<path d="M472.05,196.44 L477.65,202.04 M477.65,196.44 L472.05,202.04" stroke="#FFC000" stroke-width="1"/>
<path d="M535.20,204.56 L540.80,210.16 M540.80,204.56 L535.20,210.16" stroke="#FFC000" stroke-width="1"/>
<line x1="411.70" y1="194.96" x2="411.70" y2="199.24" stroke="#7f7f7f" stroke-width="1" />
<line x1="409.70" y1="194.96" x2="413.70" y2="194.96" stroke="#7f7f7f" stroke-width="1" />
<line x1="409.70" y1="199.24" x2="413.70" y2="199.24" stroke="#7f7f7f" stroke-width="1" />
<line x1="427.49" y1="195.99" x2="427.49" y2="197.70" stroke="#7f7f7f" stroke-width="1" />
<line x1="425.49" y1="195.99" x2="429.49" y2="195.99" stroke="#7f7f7f" stroke-width="1" />
<line x1="425.49" y1="197.70" x2="429.49" y2="197.70" stroke="#7f7f7f" stroke-width="1" />
<line x1="443.27" y1="205.05" x2="443.27" y2="207.10" stroke="#7f7f7f" stroke-width="1" />
<line x1="441.27" y1="205.05" x2="445.27" y2="205.05" stroke="#7f7f7f" stroke-width="1" />
<line x1="441.27" y1="207.10" x2="445.27" y2="207.10" stroke="#7f7f7f" stroke-width="1" />
<line x1="474.85" y1="207.19" x2="474.85" y2="208.90" stroke="#7f7f7f" stroke-width="1" />
<line x1="472.85" y1="207.19" x2="476.85" y2="207.19" stroke="#7f7f7f" stroke-width="1" />
<line x1="472.85" y1="208.90" x2="476.85" y2="208.90" stroke="#7f7f7f" stroke-width="1" />
<line x1="538.00" y1="222.58" x2="538.00" y2="224.63" stroke="#7f7f7f" stroke-width="1" />
<line x1="536.00" y1="222.58" x2="540.00" y2="222.58" stroke="#7f7f7f" stroke-width="1" />
<line x1="536.00" y1="224.63" x2="540.00" y2="224.63" stroke="#7f7f7f" stroke-width="1" />
<line x1="427.49" y1="214.63" x2="427.49" y2="218.05" stroke="#7f7f7f" stroke-width="1" />
<line x1="425.49" y1="214.63" x2="429.49" y2="214.63" stroke="#7f7f7f" stroke-width="1" />
<line x1="425.49" y1="218.05" x2="429.49" y2="218.05" stroke="#7f7f7f" stroke-width="1" />
<line x1="443.27" y1="213.60" x2="443.27" y2="217.88" stroke="#7f7f7f" stroke-width="1" />
<line x1="441.27" y1="213.60" x2="445.27" y2="213.60" stroke="#7f7f7f" stroke-width="1" />
<line x1="441.27" y1="217.88" x2="445.27" y2="217.88" stroke="#7f7f7f" stroke-width="1" />
<line x1="474.85" y1="196.67" x2="474.85" y2="201.80" stroke="#7f7f7f" stroke-width="1" />
<line x1="472.85" y1="196.67" x2="476.85" y2="196.67" stroke="#7f7f7f" stroke-width="1" />
<line x1="472.85" y1="201.80" x2="476.85" y2="201.80" stroke="#7f7f7f" stroke-width="1" />
<line x1="538.00" y1="204.80" x2="538.00" y2="209.93" stroke="#7f7f7f" stroke-width="1" />
<line x1="536.00" y1="204.80" x2="540.00" y2="204.80" stroke="#7f7f7f" stroke-width="1" />
<line x1="536.00" y1="209.93" x2="540.00" y2="209.93" stroke="#7f7f7f" stroke-width="1" />
<text transform="translate(385.60,291.60) rotate(-90)" font-size="10.5" font-weight="bold" stroke="#000" stroke-width="0.08" textLength="80.4" lengthAdjust="spacingAndGlyphs" >Normalized Turb</text>
<text transform="translate(381.70,209.80) rotate(-90)" font-size="6.5" font-weight="bold" stroke="#000" stroke-width="0.08" textLength="12.4" lengthAdjust="spacingAndGlyphs" >Max</text>
<text x="449.40" y="313.20" font-size="10.0" font-weight="bold" stroke="#000" stroke-width="0.08" textLength="65.6" lengthAdjust="spacingAndGlyphs" >[aPS] (μg/mL)</text>
</svg>
</body></html>
